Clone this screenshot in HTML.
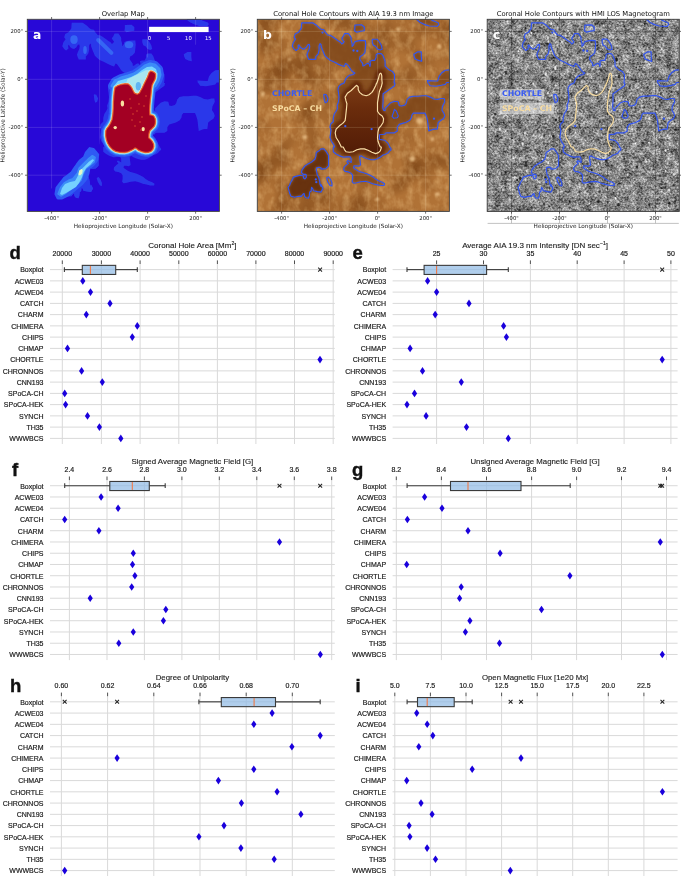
<!DOCTYPE html>
<html><head><meta charset="utf-8"><title>Coronal hole detection comparison</title>
<style>html,body{margin:0;padding:0;background:#fff;width:681px;height:876px;overflow:hidden}svg{display:block}</style>
</head><body><svg width="681" height="876" viewBox="0 0 681 876">
<rect width="681" height="876" fill="#fff"/>
<svg x="27.3" y="19.3" width="192.1" height="192.1" viewBox="0 0 192.1 192.1" overflow="hidden"><defs><filter id="ba" x="-10%" y="-10%" width="120%" height="120%"><feGaussianBlur stdDeviation="0.5"/></filter></defs><rect width="192.1" height="192.1" fill="#2808d7"/><g filter="url(#ba)"><path d="M44.4 3.5L55.3 3.5 57.6 4.9 60.0 6.7 61.8 8.6 63.8 10.0 63.8 10.0 66.6 10.5 68.0 12.9 70.4 15.7 73.2 16.1 76.0 18.0 78.8 19.9 81.2 21.8 83.5 23.2 84.5 24.6 85.9 23.7 86.8 22.3 85.4 20.8 84.5 19.0 85.9 17.1 87.3 14.3 91.1 14.3 92.5 16.1 93.9 18.5 93.9 21.3 94.8 24.1 94.8 27.0 96.2 25.5 97.2 22.7 99.5 21.8 104.2 21.1 108.0 21.3 108.4 25.1 108.0 29.8 107.5 33.5 105.2 35.9 102.8 37.3 102.3 39.6 103.7 42.0 105.2 43.9 105.6 46.7 107.0 46.2 108.9 44.8 110.8 43.9 112.2 45.3 112.7 47.2 113.1 44.8 112.7 42.0 114.6 41.1 117.4 41.1 118.8 38.2 118.8 35.4 120.2 34.3 124.0 34.3 125.8 36.4 126.8 39.2 127.8 42.0 127.8 46.7 131.6 50.5 135.3 52.3 137.2 55.2 137.2 59.9 136.7 63.7 137.7 63.7 137.2 66.5 133.4 69.3 127.8 73.1 127.8 73.1 125.8 74.5 125.8 82.5 125.4 88.1 126.3 91.0 127.8 91.4 127.8 89.1 130.6 86.3 133.4 83.4 137.2 82.0 141.0 82.5 141.9 86.3 144.2 86.7 147.5 85.8 148.9 83.9 149.9 80.1 152.2 77.8 156.0 76.9 160.7 76.9 165.4 76.4 169.2 76.4 172.9 77.8 176.7 79.7 180.4 80.1 184.2 79.2 187.0 79.2 187.5 82.5 185.1 87.2 184.7 91.0 186.5 93.8 187.5 96.6 186.1 99.4 183.3 101.3 180.9 103.2 180.4 106.9 180.0 109.8 176.7 109.8 173.9 110.7 171.5 111.6 171.0 107.9 170.6 104.1 170.1 100.4 169.2 97.5 167.7 93.8 162.6 93.8 156.0 93.8 154.6 95.7 154.1 98.5 152.2 101.3 148.5 103.2 145.2 104.1 141.9 105.1 140.0 107.9 140.0 111.6 137.2 113.5 133.4 113.5 129.7 113.5 127.8 114.0 127.8 114.9 122.1 115.4 122.1 120.1 127.8 121.0 127.8 121.0 128.7 122.0 130.6 123.9 132.5 127.7 132.0 127.7 133.4 128.6 133.9 130.5 132.0 131.9 130.6 133.8 127.8 135.2 127.8 135.2 125.8 135.7 124.0 137.1 120.2 139.4 117.4 140.4 113.6 140.4 109.9 139.4 106.1 138.0 104.2 136.6 102.3 137.1 102.8 141.8 103.3 145.6 101.4 147.0 99.0 146.5 96.7 146.5 96.2 148.4 98.6 150.3 100.9 151.7 103.3 152.6 106.1 153.5 109.4 154.5 112.7 155.9 116.0 157.8 118.3 159.7 121.1 161.5 124.9 162.9 127.2 164.4 126.8 166.2 123.0 166.2 119.3 165.3 115.5 164.4 111.7 162.9 108.0 162.0 103.3 162.5 99.5 163.4 96.2 163.9 94.8 162.5 95.3 159.7 95.3 155.9 93.9 154.0 91.1 152.6 87.8 152.1 86.4 150.3 86.8 147.9 89.2 145.6 91.1 144.1 89.6 142.3 90.6 141.3 92.5 142.3 93.9 143.2 93.9 139.4 92.9 137.6 89.6 137.6 86.4 138.0 82.6 136.6 78.8 134.7 76.0 132.4 76.0 127.7 77.4 127.7 76.0 124.8 74.1 122.0 72.7 118.2 73.2 114.5 73.7 110.7 72.7 107.9 73.2 105.1 76.0 102.2 76.0 98.5 77.0 94.7 78.8 91.9 80.2 89.1 79.8 86.3 81.2 82.5 81.7 77.8 81.2 73.1 80.7 70.3 81.2 67.5 83.5 65.1 86.8 63.7 86.8 63.7 88.2 59.9 90.1 57.5 92.0 56.1 95.8 55.2 97.6 53.7 95.8 52.8 93.9 50.9 92.5 48.6 91.1 46.7 89.6 44.8 88.2 44.3 86.8 47.2 84.0 46.2 80.7 44.8 77.4 42.9 74.1 41.5 72.3 40.6 69.4 38.2 67.6 36.4 65.2 30.7 63.8 27.0 63.8 25.3 62.8 24.3 61.8 26.5 61.8 30.7 60.9 34.5 58.5 37.3 58.5 40.1 51.5 40.1 50.6 38.2 49.6 35.4 50.6 32.6 52.0 29.8 52.4 27.0 52.0 25.1 50.6 25.5 49.1 27.9 46.8 29.8 44.9 29.3 43.0 27.9 41.6 25.5 40.7 26.5 41.2 29.3 38.8 31.2 36.9 29.8 35.0 27.0 36.0 23.2 38.3 19.9 36.9 18.0 37.9 14.7 41.2 12.9 44.0 9.1Z M63.8 129.6L63.8 129.6 66.6 129.6 69.0 132.4 71.3 136.2 71.3 146.5 68.5 149.3 63.8 149.8 63.8 148.4 61.8 147.9 59.5 148.4 59.0 150.3 60.0 155.9 61.4 157.8 62.3 161.5 62.8 165.3 63.8 167.2 63.8 165.3 65.7 169.1 63.8 172.8 63.8 172.8 60.0 172.3 56.2 171.4 55.3 169.1 54.3 168.1 53.8 171.9 52.4 172.8 52.0 176.6 51.0 178.9 48.7 178.5 47.3 177.0 46.8 174.2 45.9 174.7 44.0 177.0 41.2 177.0 37.4 178.0 33.6 177.0 32.7 174.7 31.8 171.9 30.8 168.1 32.2 166.2 33.2 163.4 35.0 160.6 36.0 157.8 39.3 156.8 43.0 155.9 45.9 156.4 46.3 158.7 47.7 159.7 49.1 157.8 48.7 155.0 45.9 155.0 44.0 153.1 44.9 150.3 47.3 147.0 50.6 144.6 54.3 142.7 57.6 139.9 58.5 137.1 59.0 133.3 61.8 131.5Z M97.6 5.8L104.2 5.5 107.0 7.7 107.0 11.4 103.3 11.9 99.5 12.9 97.2 11.4 97.6 8.6Z M115.0 19.9L119.7 19.9 122.1 22.7 124.0 26.0 124.9 29.8 123.0 30.7 120.2 29.8 118.3 27.0 116.0 26.0 115.0 23.2Z M159.3 -0.8L159.8 0.6 162.6 3.0 167.3 5.3 172.0 6.7 180.0 7.0 181.4 5.3 180.9 3.5 178.6 2.5 174.8 1.1 172.9 -0.8Z M156.5 34.9L160.2 32.6 164.0 32.6 164.0 37.3 164.5 42.0 161.2 41.1 157.9 39.6 156.9 37.3Z M66.6 75.0L69.0 75.4 70.8 79.2 69.9 82.5 68.0 83.4 67.1 80.6 66.6 76.9Z M137.2 90.0L139.1 91.9 141.0 96.6 140.0 98.5 136.3 98.9 134.8 97.1 136.3 92.8Z M69.4 158.7L71.3 157.8 73.2 160.1 74.6 163.4 74.6 166.7 72.7 166.2 70.4 162.5Z M193.6 50.5L188.0 50.9 184.2 53.7 181.8 57.0 180.9 59.9 180.4 61.7 178.6 61.7 170.1 61.3 170.6 63.7 171.0 63.7 172.9 66.5 178.6 67.0 184.2 66.0 188.0 65.1 189.4 63.2 193.6 63.2Z" fill="#2c38ea"/><g fill="#3466f4"><path d="M70.9 20.7L84.1 33.6" stroke="#3466f4" stroke-width="4" stroke-linecap="round"/><ellipse cx="46.7" cy="20.3" rx="3.7" ry="4.4"/><ellipse cx="57.7" cy="30.7" rx="1.8" ry="4"/><ellipse cx="101.7" cy="25.4" rx="4.2" ry="3.5"/></g><path d="M63.8 129.6L63.8 129.6 66.6 129.6 69.0 132.4 71.3 136.2 71.3 146.5 68.5 149.3 63.8 149.8 63.8 148.4 61.8 147.9 59.5 148.4 59.0 150.3 60.0 155.9 61.4 157.8 62.3 161.5 62.8 165.3 63.8 167.2 63.8 165.3 65.7 169.1 63.8 172.8 63.8 172.8 60.0 172.3 56.2 171.4 55.3 169.1 54.3 168.1 53.8 171.9 52.4 172.8 52.0 176.6 51.0 178.9 48.7 178.5 47.3 177.0 46.8 174.2 45.9 174.7 44.0 177.0 41.2 177.0 37.4 178.0 33.6 177.0 32.7 174.7 31.8 171.9 30.8 168.1 32.2 166.2 33.2 163.4 35.0 160.6 36.0 157.8 39.3 156.8 43.0 155.9 45.9 156.4 46.3 158.7 47.7 159.7 49.1 157.8 48.7 155.0 45.9 155.0 44.0 153.1 44.9 150.3 47.3 147.0 50.6 144.6 54.3 142.7 57.6 139.9 58.5 137.1 59.0 133.3 61.8 131.5Z" fill="#2b3eec"/><path d="M28.7 174.7L29.7 168.7 32.7 164.7 36.9 159.3 44.0 154.0 46.6 150.5 50.1 145.2 52.8 141.7 57.2 138.1 58.9 133.7 62.5 129.3 66.0 130.2 70.4 135.5 69.5 140.8 66.0 145.2 61.6 148.7 60.7 154.0 58.9 159.3 54.5 164.6 50.1 168.1 45.7 171.7 40.7 175.7 34.7 178.7 30.7 178.7Z" fill="#2e5af4" stroke="#2e5af4" stroke-width="3" stroke-linejoin="round"/><path d="M30.7 174.7L33.4 168.1 36.9 163.7 41.3 161.0 45.7 159.3 50.1 154.0 51.9 148.7 56.3 144.3 60.7 139.9 65.1 136.4 67.8 138.1 66.9 142.5 62.5 146.1 58.1 149.6 55.4 155.7 53.7 161.0 50.1 164.6 44.8 169.0 38.7 173.7 33.7 176.7Z" fill="#3c8cf8" stroke="#3c8cf8" stroke-width="1.5" stroke-linejoin="round"/><path d="M32.7 174.7L34.7 168.7 37.7 164.7 42.7 162.7 47.7 161.7 50.1 157.5 52.8 151.3 57.2 146.9 61.6 142.5 65.1 139.9 66.9 140.8 63.3 145.2 58.9 148.7 56.3 153.1 54.5 158.4 51.7 163.7 48.7 167.7 43.7 170.7 38.7 173.7 34.7 175.7Z" fill="#74d2ff"/><path d="M51.0 155.2L51.9 151.2 54.2 149.6 55.4 150.7 54.9 154.2 52.7 156.2Z" fill="#e4f8c8"/><path d="M84.7 66.7L87.7 61.7 93.7 58.7 100.7 56.7 106.7 54.7 112.7 50.7 117.7 46.7 122.7 44.7 127.7 45.7 131.7 49.7 132.7 55.7 130.7 61.7 127.7 66.7Z" fill="#2e5af4" stroke="#2e5af4" stroke-width="8" stroke-linejoin="round"/><path d="M87.7 68.1L90.7 66.2 94.0 65.2 97.7 64.5 100.8 64.7 102.7 66.2 104.2 68.1 105.7 71.2 107.1 73.8 110.0 75.0 112.2 73.7 113.4 71.5 115.2 68.2 116.8 64.7 118.5 61.2 120.2 57.8 121.9 53.3 123.2 51.9 124.8 52.1 126.7 53.0 128.2 54.4 128.3 57.2 127.7 60.1 126.0 63.2 124.8 65.8 124.1 70.2 123.7 75.0 123.0 80.7 122.5 86.4 122.3 90.7 122.5 95.5 124.7 95.9 126.5 96.7 127.9 99.5 128.2 102.4 127.9 104.7 127.1 106.9 124.9 109.2 122.5 111.5 121.6 114.7 121.4 118.4 123.2 120.0 124.8 121.8 126.3 124.7 126.5 127.5 125.5 130.2 123.7 132.1 120.7 133.1 117.9 133.2 114.4 132.3 111.1 130.9 109.2 129.3 107.7 128.6 106.0 129.9 104.2 130.9 100.7 132.5 97.4 133.2 92.7 133.0 88.3 132.1 85.0 130.1 82.5 127.5 80.5 124.2 79.1 120.6 78.3 116.2 78.5 111.5 79.7 109.0 81.4 106.9 83.3 103.7 84.8 100.1 85.6 94.7 86.0 88.7 86.1 82.7 86.5 77.2 86.9 72.7Z" fill="#2e5af4" stroke="#2e5af4" stroke-width="8.5" stroke-linejoin="round"/><path d="M84.7 66.7L87.7 61.7 93.7 58.7 100.7 56.7 106.7 54.7 112.7 50.7 117.7 46.7 122.7 44.7 127.7 45.7 131.7 49.7 132.7 55.7 130.7 61.7 127.7 66.7Z" fill="#3c8cf8" stroke="#3c8cf8" stroke-width="3" stroke-linejoin="round"/><path d="M87.7 68.1L90.7 66.2 94.0 65.2 97.7 64.5 100.8 64.7 102.7 66.2 104.2 68.1 105.7 71.2 107.1 73.8 110.0 75.0 112.2 73.7 113.4 71.5 115.2 68.2 116.8 64.7 118.5 61.2 120.2 57.8 121.9 53.3 123.2 51.9 124.8 52.1 126.7 53.0 128.2 54.4 128.3 57.2 127.7 60.1 126.0 63.2 124.8 65.8 124.1 70.2 123.7 75.0 123.0 80.7 122.5 86.4 122.3 90.7 122.5 95.5 124.7 95.9 126.5 96.7 127.9 99.5 128.2 102.4 127.9 104.7 127.1 106.9 124.9 109.2 122.5 111.5 121.6 114.7 121.4 118.4 123.2 120.0 124.8 121.8 126.3 124.7 126.5 127.5 125.5 130.2 123.7 132.1 120.7 133.1 117.9 133.2 114.4 132.3 111.1 130.9 109.2 129.3 107.7 128.6 106.0 129.9 104.2 130.9 100.7 132.5 97.4 133.2 92.7 133.0 88.3 132.1 85.0 130.1 82.5 127.5 80.5 124.2 79.1 120.6 78.3 116.2 78.5 111.5 79.7 109.0 81.4 106.9 83.3 103.7 84.8 100.1 85.6 94.7 86.0 88.7 86.1 82.7 86.5 77.2 86.9 72.7Z" fill="#3c8cf8" stroke="#3c8cf8" stroke-width="5.6" stroke-linejoin="round"/><path d="M87.7 68.1L90.7 66.2 94.0 65.2 97.7 64.5 100.8 64.7 102.7 66.2 104.2 68.1 105.7 71.2 107.1 73.8 110.0 75.0 112.2 73.7 113.4 71.5 115.2 68.2 116.8 64.7 118.5 61.2 120.2 57.8 121.9 53.3 123.2 51.9 124.8 52.1 126.7 53.0 128.2 54.4 128.3 57.2 127.7 60.1 126.0 63.2 124.8 65.8 124.1 70.2 123.7 75.0 123.0 80.7 122.5 86.4 122.3 90.7 122.5 95.5 124.7 95.9 126.5 96.7 127.9 99.5 128.2 102.4 127.9 104.7 127.1 106.9 124.9 109.2 122.5 111.5 121.6 114.7 121.4 118.4 123.2 120.0 124.8 121.8 126.3 124.7 126.5 127.5 125.5 130.2 123.7 132.1 120.7 133.1 117.9 133.2 114.4 132.3 111.1 130.9 109.2 129.3 107.7 128.6 106.0 129.9 104.2 130.9 100.7 132.5 97.4 133.2 92.7 133.0 88.3 132.1 85.0 130.1 82.5 127.5 80.5 124.2 79.1 120.6 78.3 116.2 78.5 111.5 79.7 109.0 81.4 106.9 83.3 103.7 84.8 100.1 85.6 94.7 86.0 88.7 86.1 82.7 86.5 77.2 86.9 72.7Z" fill="#78d6ff" stroke="#78d6ff" stroke-width="3.8" stroke-linejoin="round"/><path d="M86.7 66.7L90.7 61.7 97.7 59.7 103.7 57.7 109.7 54.7 114.7 50.7 119.7 47.7 124.7 47.2 128.7 49.7 130.2 54.7 128.7 60.7 125.7 66.7Z" fill="#78d6ff"/><path d="M99.7 63.7L104.2 67.2 107.1 73.2 110.0 74.5 113.4 71.0 116.8 64.2 120.2 57.3 122.2 52.3 124.7 51.3 118.7 51.7 112.7 54.7 106.7 57.7 100.7 60.7Z" fill="#a8e6f0" stroke="#a8e6f0" stroke-width="1.5" stroke-linejoin="round"/><ellipse cx="111" cy="67" rx="2.6" ry="4.2" fill="#60b4f2"/><path d="M87.7 68.1L90.7 66.2 94.0 65.2 97.7 64.5 100.8 64.7 102.7 66.2 104.2 68.1 105.7 71.2 107.1 73.8 110.0 75.0 112.2 73.7 113.4 71.5 115.2 68.2 116.8 64.7 118.5 61.2 120.2 57.8 121.9 53.3 123.2 51.9 124.8 52.1 126.7 53.0 128.2 54.4 128.3 57.2 127.7 60.1 126.0 63.2 124.8 65.8 124.1 70.2 123.7 75.0 123.0 80.7 122.5 86.4 122.3 90.7 122.5 95.5 124.7 95.9 126.5 96.7 127.9 99.5 128.2 102.4 127.9 104.7 127.1 106.9 124.9 109.2 122.5 111.5 121.6 114.7 121.4 118.4 123.2 120.0 124.8 121.8 126.3 124.7 126.5 127.5 125.5 130.2 123.7 132.1 120.7 133.1 117.9 133.2 114.4 132.3 111.1 130.9 109.2 129.3 107.7 128.6 106.0 129.9 104.2 130.9 100.7 132.5 97.4 133.2 92.7 133.0 88.3 132.1 85.0 130.1 82.5 127.5 80.5 124.2 79.1 120.6 78.3 116.2 78.5 111.5 79.7 109.0 81.4 106.9 83.3 103.7 84.8 100.1 85.6 94.7 86.0 88.7 86.1 82.7 86.5 77.2 86.9 72.7Z" fill="#f4f0b8" stroke="#f4f0b8" stroke-width="2.2" stroke-linejoin="round"/><path d="M87.7 68.1L90.7 66.2 94.0 65.2 97.7 64.5 100.8 64.7 102.7 66.2 104.2 68.1 105.7 71.2 107.1 73.8 110.0 75.0 112.2 73.7 113.4 71.5 115.2 68.2 116.8 64.7 118.5 61.2 120.2 57.8 121.9 53.3 123.2 51.9 124.8 52.1 126.7 53.0 128.2 54.4 128.3 57.2 127.7 60.1 126.0 63.2 124.8 65.8 124.1 70.2 123.7 75.0 123.0 80.7 122.5 86.4 122.3 90.7 122.5 95.5 124.7 95.9 126.5 96.7 127.9 99.5 128.2 102.4 127.9 104.7 127.1 106.9 124.9 109.2 122.5 111.5 121.6 114.7 121.4 118.4 123.2 120.0 124.8 121.8 126.3 124.7 126.5 127.5 125.5 130.2 123.7 132.1 120.7 133.1 117.9 133.2 114.4 132.3 111.1 130.9 109.2 129.3 107.7 128.6 106.0 129.9 104.2 130.9 100.7 132.5 97.4 133.2 92.7 133.0 88.3 132.1 85.0 130.1 82.5 127.5 80.5 124.2 79.1 120.6 78.3 116.2 78.5 111.5 79.7 109.0 81.4 106.9 83.3 103.7 84.8 100.1 85.6 94.7 86.0 88.7 86.1 82.7 86.5 77.2 86.9 72.7Z" fill="#f49048" stroke="#f49048" stroke-width="1.0" stroke-linejoin="round"/></g><path d="M87.7 68.1L90.7 66.2 94.0 65.2 97.7 64.5 100.8 64.7 102.7 66.2 104.2 68.1 105.7 71.2 107.1 73.8 110.0 75.0 112.2 73.7 113.4 71.5 115.2 68.2 116.8 64.7 118.5 61.2 120.2 57.8 121.9 53.3 123.2 51.9 124.8 52.1 126.7 53.0 128.2 54.4 128.3 57.2 127.7 60.1 126.0 63.2 124.8 65.8 124.1 70.2 123.7 75.0 123.0 80.7 122.5 86.4 122.3 90.7 122.5 95.5 124.7 95.9 126.5 96.7 127.9 99.5 128.2 102.4 127.9 104.7 127.1 106.9 124.9 109.2 122.5 111.5 121.6 114.7 121.4 118.4 123.2 120.0 124.8 121.8 126.3 124.7 126.5 127.5 125.5 130.2 123.7 132.1 120.7 133.1 117.9 133.2 114.4 132.3 111.1 130.9 109.2 129.3 107.7 128.6 106.0 129.9 104.2 130.9 100.7 132.5 97.4 133.2 92.7 133.0 88.3 132.1 85.0 130.1 82.5 127.5 80.5 124.2 79.1 120.6 78.3 116.2 78.5 111.5 79.7 109.0 81.4 106.9 83.3 103.7 84.8 100.1 85.6 94.7 86.0 88.7 86.1 82.7 86.5 77.2 86.9 72.7Z" fill="#a30023"/><path d="M87.7 68.1L90.7 66.2 94.0 65.2 97.7 64.5 100.8 64.7 102.7 66.2 104.2 68.1 105.7 71.2 107.1 73.8 110.0 75.0 112.2 73.7 113.4 71.5 115.2 68.2 116.8 64.7 118.5 61.2 120.2 57.8 121.9 53.3 123.2 51.9 124.8 52.1 126.7 53.0 128.2 54.4 128.3 57.2 127.7 60.1 126.0 63.2 124.8 65.8 124.1 70.2 123.7 75.0 123.0 80.7 122.5 86.4 122.3 90.7 122.5 95.5 124.7 95.9 126.5 96.7 127.9 99.5 128.2 102.4 127.9 104.7 127.1 106.9 124.9 109.2 122.5 111.5 121.6 114.7 121.4 118.4 123.2 120.0 124.8 121.8 126.3 124.7 126.5 127.5 125.5 130.2 123.7 132.1 120.7 133.1 117.9 133.2 114.4 132.3 111.1 130.9 109.2 129.3 107.7 128.6 106.0 129.9 104.2 130.9 100.7 132.5 97.4 133.2 92.7 133.0 88.3 132.1 85.0 130.1 82.5 127.5 80.5 124.2 79.1 120.6 78.3 116.2 78.5 111.5 79.7 109.0 81.4 106.9 83.3 103.7 84.8 100.1 85.6 94.7 86.0 88.7 86.1 82.7 86.5 77.2 86.9 72.7Z" fill="none" stroke="#e8602c" stroke-width="1.3" stroke-linejoin="round" opacity="0.75" filter="url(#ba)"/><ellipse cx="95.1" cy="84.1" rx="1.7" ry="3.0" fill="#f8e0a0"/><ellipse cx="87.9" cy="108.3" rx="1.7" ry="1.7" fill="#f8e0a0"/><ellipse cx="115.9" cy="109.8" rx="1.6" ry="2.2" fill="#f8e0a0"/><circle cx="103.7" cy="88.7" r="0.8" fill="#d84830"/><circle cx="105.7" cy="94.7" r="0.8" fill="#d84830"/><circle cx="104.7" cy="100.7" r="0.8" fill="#d84830"/><circle cx="109.7" cy="91.7" r="0.8" fill="#d84830"/><circle cx="112.7" cy="102.7" r="0.8" fill="#d84830"/><circle cx="114.7" cy="97.7" r="0.8" fill="#d84830"/><circle cx="111.7" cy="84.7" r="0.8" fill="#d84830"/><circle cx="107.7" cy="106.7" r="0.8" fill="#d84830"/><circle cx="116.7" cy="86.7" r="0.8" fill="#d84830"/><circle cx="102.7" cy="79.7" r="0.8" fill="#d84830"/><circle cx="118.7" cy="76.7" r="0.8" fill="#d84830"/><circle cx="113.7" cy="110.7" r="0.8" fill="#d84830"/><clipPath id="gca"><path d="M0 0H192V22L170 25L122 37L86 62L74 105L72 125L38 157L26 169L0 172Z"/></clipPath><g clip-path="url(#gca)"><path d="M24.3 0V192.1M72.3 0V192.1M120.3 0V192.1M168.3 0V192.1M0 12.1H192.1M0 60H192.1M0 108.1H192.1M0 155.9H192.1" stroke="rgba(255,255,255,0.22)" stroke-width="0.6" fill="none"/></g><text x="5.8" y="19.8" font-family="'DejaVu Sans', sans-serif" font-size="12.3" font-weight="bold" fill="#fff">a</text><rect x="121.8" y="7.5" width="59.5" height="5.3" fill="#fff"/><g font-family="'DejaVu Sans', sans-serif" font-size="5.3" fill="#fff" text-anchor="middle"><text x="122.1" y="20.9">0</text><text x="141.5" y="20.9">5</text><text x="161.2" y="20.9">10</text><text x="181" y="20.9">15</text></g></svg><path d="M51.6 19.3v-2.3M51.6 211.4v2.3M99.6 19.3v-2.3M99.6 211.4v2.3M147.6 19.3v-2.3M147.6 211.4v2.3M195.6 19.3v-2.3M195.6 211.4v2.3M27.3 31.4h-2.3M219.4 31.4h2.3M27.3 79.3h-2.3M219.4 79.3h2.3M27.3 127.4h-2.3M219.4 127.4h2.3M27.3 175.2h-2.3M219.4 175.2h2.3" stroke="#333" stroke-width="0.7" fill="none"/><rect x="27.3" y="19.3" width="192.1" height="192.1" fill="none" stroke="#3a3a3a" stroke-width="0.9"/><g font-family="'DejaVu Sans', sans-serif" font-size="5.3" fill="#222"><text x="51.6" y="219.8" text-anchor="middle">-400"</text><text x="99.6" y="219.8" text-anchor="middle">-200"</text><text x="147.6" y="219.8" text-anchor="middle">0"</text><text x="195.6" y="219.8" text-anchor="middle">200"</text><text x="23" y="33.3" text-anchor="end">200"</text><text x="23" y="81.2" text-anchor="end">0"</text><text x="23" y="129.3" text-anchor="end">-200"</text><text x="23" y="177.1" text-anchor="end">-400"</text><text x="123.35" y="228.4" text-anchor="middle" font-size="5.72">Helioprojective Longitude (Solar-X)</text><text transform="translate(4.7 115.35) rotate(-89.9)" text-anchor="middle" font-size="5.75">Helioprojective Latitude (Solar-Y)</text><text x="123.35" y="16.1" text-anchor="middle" font-size="6.8" fill="#111">Overlap Map</text></g><svg x="257.3" y="19.3" width="192.1" height="192.1" viewBox="0 0 192.1 192.1" overflow="hidden"><defs><filter id="nb" x="0" y="0" width="100%" height="100%" color-interpolation-filters="sRGB"><feTurbulence type="fractalNoise" baseFrequency="0.14 0.1" numOctaves="3" seed="3"/><feColorMatrix type="matrix" values="0 0 0 0 1  0 0 0 0 0.85  0 0 0 0 0.6  0.75 0 0 0 -0.3"/></filter><filter id="nb2" x="0" y="0" width="100%" height="100%" color-interpolation-filters="sRGB"><feTurbulence type="fractalNoise" baseFrequency="0.03" numOctaves="2" seed="11"/><feColorMatrix type="matrix" values="0 0 0 0 0.35  0 0 0 0 0.15  0 0 0 0 0  1.2 0 0 0 -0.5"/></filter><filter id="bb" x="-20%" y="-20%" width="140%" height="140%"><feGaussianBlur stdDeviation="1.6"/></filter><filter id="bs" x="-50%" y="-50%" width="200%" height="200%"><feGaussianBlur stdDeviation="0.9"/></filter><linearGradient id="spg" x1="0" y1="0" x2="0" y2="1"><stop offset="0" stop-color="#84421a"/><stop offset="0.45" stop-color="#6a2c0c"/><stop offset="1" stop-color="#521c06"/></linearGradient></defs><rect width="192.1" height="192.1" fill="#b07236"/><rect width="192.1" height="192.1" filter="url(#nb2)"/><rect width="192.1" height="192.1" filter="url(#nb)"/><g filter="url(#bb)"><path d="M44.4 3.5L55.3 3.5 57.6 4.9 60.0 6.7 61.8 8.6 63.8 10.0 63.8 10.0 66.6 10.5 68.0 12.9 70.4 15.7 73.2 16.1 76.0 18.0 78.8 19.9 81.2 21.8 83.5 23.2 84.5 24.6 85.9 23.7 86.8 22.3 85.4 20.8 84.5 19.0 85.9 17.1 87.3 14.3 91.1 14.3 92.5 16.1 93.9 18.5 93.9 21.3 94.8 24.1 94.8 27.0 96.2 25.5 97.2 22.7 99.5 21.8 104.2 21.1 108.0 21.3 108.4 25.1 108.0 29.8 107.5 33.5 105.2 35.9 102.8 37.3 102.3 39.6 103.7 42.0 105.2 43.9 105.6 46.7 107.0 46.2 108.9 44.8 110.8 43.9 112.2 45.3 112.7 47.2 113.1 44.8 112.7 42.0 114.6 41.1 117.4 41.1 118.8 38.2 118.8 35.4 120.2 34.3 124.0 34.3 125.8 36.4 126.8 39.2 127.8 42.0 127.8 46.7 131.6 50.5 135.3 52.3 137.2 55.2 137.2 59.9 136.7 63.7 137.7 63.7 137.2 66.5 133.4 69.3 127.8 73.1 127.8 73.1 125.8 74.5 125.8 82.5 125.4 88.1 126.3 91.0 127.8 91.4 127.8 89.1 130.6 86.3 133.4 83.4 137.2 82.0 141.0 82.5 141.9 86.3 144.2 86.7 147.5 85.8 148.9 83.9 149.9 80.1 152.2 77.8 156.0 76.9 160.7 76.9 165.4 76.4 169.2 76.4 172.9 77.8 176.7 79.7 180.4 80.1 184.2 79.2 187.0 79.2 187.5 82.5 185.1 87.2 184.7 91.0 186.5 93.8 187.5 96.6 186.1 99.4 183.3 101.3 180.9 103.2 180.4 106.9 180.0 109.8 176.7 109.8 173.9 110.7 171.5 111.6 171.0 107.9 170.6 104.1 170.1 100.4 169.2 97.5 167.7 93.8 162.6 93.8 156.0 93.8 154.6 95.7 154.1 98.5 152.2 101.3 148.5 103.2 145.2 104.1 141.9 105.1 140.0 107.9 140.0 111.6 137.2 113.5 133.4 113.5 129.7 113.5 127.8 114.0 127.8 114.9 122.1 115.4 122.1 120.1 127.8 121.0 127.8 121.0 128.7 122.0 130.6 123.9 132.5 127.7 132.0 127.7 133.4 128.6 133.9 130.5 132.0 131.9 130.6 133.8 127.8 135.2 127.8 135.2 125.8 135.7 124.0 137.1 120.2 139.4 117.4 140.4 113.6 140.4 109.9 139.4 106.1 138.0 104.2 136.6 102.3 137.1 102.8 141.8 103.3 145.6 101.4 147.0 99.0 146.5 96.7 146.5 96.2 148.4 98.6 150.3 100.9 151.7 103.3 152.6 106.1 153.5 109.4 154.5 112.7 155.9 116.0 157.8 118.3 159.7 121.1 161.5 124.9 162.9 127.2 164.4 126.8 166.2 123.0 166.2 119.3 165.3 115.5 164.4 111.7 162.9 108.0 162.0 103.3 162.5 99.5 163.4 96.2 163.9 94.8 162.5 95.3 159.7 95.3 155.9 93.9 154.0 91.1 152.6 87.8 152.1 86.4 150.3 86.8 147.9 89.2 145.6 91.1 144.1 89.6 142.3 90.6 141.3 92.5 142.3 93.9 143.2 93.9 139.4 92.9 137.6 89.6 137.6 86.4 138.0 82.6 136.6 78.8 134.7 76.0 132.4 76.0 127.7 77.4 127.7 76.0 124.8 74.1 122.0 72.7 118.2 73.2 114.5 73.7 110.7 72.7 107.9 73.2 105.1 76.0 102.2 76.0 98.5 77.0 94.7 78.8 91.9 80.2 89.1 79.8 86.3 81.2 82.5 81.7 77.8 81.2 73.1 80.7 70.3 81.2 67.5 83.5 65.1 86.8 63.7 86.8 63.7 88.2 59.9 90.1 57.5 92.0 56.1 95.8 55.2 97.6 53.7 95.8 52.8 93.9 50.9 92.5 48.6 91.1 46.7 89.6 44.8 88.2 44.3 86.8 47.2 84.0 46.2 80.7 44.8 77.4 42.9 74.1 41.5 72.3 40.6 69.4 38.2 67.6 36.4 65.2 30.7 63.8 27.0 63.8 25.3 62.8 24.3 61.8 26.5 61.8 30.7 60.9 34.5 58.5 37.3 58.5 40.1 51.5 40.1 50.6 38.2 49.6 35.4 50.6 32.6 52.0 29.8 52.4 27.0 52.0 25.1 50.6 25.5 49.1 27.9 46.8 29.8 44.9 29.3 43.0 27.9 41.6 25.5 40.7 26.5 41.2 29.3 38.8 31.2 36.9 29.8 35.0 27.0 36.0 23.2 38.3 19.9 36.9 18.0 37.9 14.7 41.2 12.9 44.0 9.1Z M63.8 129.6L63.8 129.6 66.6 129.6 69.0 132.4 71.3 136.2 71.3 146.5 68.5 149.3 63.8 149.8 63.8 148.4 61.8 147.9 59.5 148.4 59.0 150.3 60.0 155.9 61.4 157.8 62.3 161.5 62.8 165.3 63.8 167.2 63.8 165.3 65.7 169.1 63.8 172.8 63.8 172.8 60.0 172.3 56.2 171.4 55.3 169.1 54.3 168.1 53.8 171.9 52.4 172.8 52.0 176.6 51.0 178.9 48.7 178.5 47.3 177.0 46.8 174.2 45.9 174.7 44.0 177.0 41.2 177.0 37.4 178.0 33.6 177.0 32.7 174.7 31.8 171.9 30.8 168.1 32.2 166.2 33.2 163.4 35.0 160.6 36.0 157.8 39.3 156.8 43.0 155.9 45.9 156.4 46.3 158.7 47.7 159.7 49.1 157.8 48.7 155.0 45.9 155.0 44.0 153.1 44.9 150.3 47.3 147.0 50.6 144.6 54.3 142.7 57.6 139.9 58.5 137.1 59.0 133.3 61.8 131.5Z M97.6 5.8L104.2 5.5 107.0 7.7 107.0 11.4 103.3 11.9 99.5 12.9 97.2 11.4 97.6 8.6Z M115.0 19.9L119.7 19.9 122.1 22.7 124.0 26.0 124.9 29.8 123.0 30.7 120.2 29.8 118.3 27.0 116.0 26.0 115.0 23.2Z M159.3 -0.8L159.8 0.6 162.6 3.0 167.3 5.3 172.0 6.7 180.0 7.0 181.4 5.3 180.9 3.5 178.6 2.5 174.8 1.1 172.9 -0.8Z M156.5 34.9L160.2 32.6 164.0 32.6 164.0 37.3 164.5 42.0 161.2 41.1 157.9 39.6 156.9 37.3Z M66.6 75.0L69.0 75.4 70.8 79.2 69.9 82.5 68.0 83.4 67.1 80.6 66.6 76.9Z M137.2 90.0L139.1 91.9 141.0 96.6 140.0 98.5 136.3 98.9 134.8 97.1 136.3 92.8Z M69.4 158.7L71.3 157.8 73.2 160.1 74.6 163.4 74.6 166.7 72.7 166.2 70.4 162.5Z M193.6 50.5L188.0 50.9 184.2 53.7 181.8 57.0 180.9 59.9 180.4 61.7 178.6 61.7 170.1 61.3 170.6 63.7 171.0 63.7 172.9 66.5 178.6 67.0 184.2 66.0 188.0 65.1 189.4 63.2 193.6 63.2Z" fill="#7e4418" opacity="0.85"/><path d="M63.8 129.6L63.8 129.6 66.6 129.6 69.0 132.4 71.3 136.2 71.3 146.5 68.5 149.3 63.8 149.8 63.8 148.4 61.8 147.9 59.5 148.4 59.0 150.3 60.0 155.9 61.4 157.8 62.3 161.5 62.8 165.3 63.8 167.2 63.8 165.3 65.7 169.1 63.8 172.8 63.8 172.8 60.0 172.3 56.2 171.4 55.3 169.1 54.3 168.1 53.8 171.9 52.4 172.8 52.0 176.6 51.0 178.9 48.7 178.5 47.3 177.0 46.8 174.2 45.9 174.7 44.0 177.0 41.2 177.0 37.4 178.0 33.6 177.0 32.7 174.7 31.8 171.9 30.8 168.1 32.2 166.2 33.2 163.4 35.0 160.6 36.0 157.8 39.3 156.8 43.0 155.9 45.9 156.4 46.3 158.7 47.7 159.7 49.1 157.8 48.7 155.0 45.9 155.0 44.0 153.1 44.9 150.3 47.3 147.0 50.6 144.6 54.3 142.7 57.6 139.9 58.5 137.1 59.0 133.3 61.8 131.5Z" fill="#5e2a0c" opacity="0.75"/><path d="M124.9 63.7L124.0 67.5 122.1 72.2 121.1 77.8 120.2 83.4 120.2 91.9 122.1 94.7 124.9 96.6 126.3 99.4 125.8 103.2 124.0 106.0 121.6 108.8 120.7 112.6 120.2 118.2 120.7 122.0 122.1 125.7 123.0 127.7 124.0 127.7 124.0 128.6 123.0 131.5 121.1 133.3 118.3 134.3 114.6 132.9 110.8 131.0 107.0 129.6 103.3 129.6 99.5 130.5 95.8 132.4 92.0 132.9 88.7 132.4 87.3 130.5 85.9 127.7 84.0 127.7 83.1 125.7 81.2 122.0 78.8 118.2 77.9 113.5 78.8 109.8 82.1 106.5 85.4 104.1 87.8 101.3 88.2 98.5 88.7 93.8 89.2 89.1 89.6 84.4 88.7 81.6 87.8 77.8 90.1 74.0 93.9 71.2 97.6 67.5 99.5 66.0 100.9 67.5 100.9 70.3 102.3 73.1 105.2 75.4 108.9 76.4 111.7 75.4 114.6 73.1 116.4 70.3 118.3 66.5 119.3 63.7 119.6 63.7 121.2 59.0 121.9 56.0 122.6 54.3 123.4 53.9 124.0 54.5 124.5 56.5 124.5 60.0 124.9 63.7Z" fill="#66290a" stroke="#66290a" stroke-width="9" stroke-linejoin="round" opacity="0.9"/></g><path d="M124.9 63.7L124.0 67.5 122.1 72.2 121.1 77.8 120.2 83.4 120.2 91.9 122.1 94.7 124.9 96.6 126.3 99.4 125.8 103.2 124.0 106.0 121.6 108.8 120.7 112.6 120.2 118.2 120.7 122.0 122.1 125.7 123.0 127.7 124.0 127.7 124.0 128.6 123.0 131.5 121.1 133.3 118.3 134.3 114.6 132.9 110.8 131.0 107.0 129.6 103.3 129.6 99.5 130.5 95.8 132.4 92.0 132.9 88.7 132.4 87.3 130.5 85.9 127.7 84.0 127.7 83.1 125.7 81.2 122.0 78.8 118.2 77.9 113.5 78.8 109.8 82.1 106.5 85.4 104.1 87.8 101.3 88.2 98.5 88.7 93.8 89.2 89.1 89.6 84.4 88.7 81.6 87.8 77.8 90.1 74.0 93.9 71.2 97.6 67.5 99.5 66.0 100.9 67.5 100.9 70.3 102.3 73.1 105.2 75.4 108.9 76.4 111.7 75.4 114.6 73.1 116.4 70.3 118.3 66.5 119.3 63.7 119.6 63.7 121.2 59.0 121.9 56.0 122.6 54.3 123.4 53.9 124.0 54.5 124.5 56.5 124.5 60.0 124.9 63.7Z" fill="url(#spg)"/><g filter="url(#bs)" fill="#f0c890" opacity="0.75"><ellipse cx="47.7" cy="117.7" rx="2.5" ry="2"/><ellipse cx="162" cy="101.5" rx="3.2" ry="3"/><ellipse cx="155" cy="139.5" rx="3" ry="2.5"/><ellipse cx="5.6" cy="74.7" rx="2" ry="2.5"/><ellipse cx="182" cy="27" rx="2" ry="2.5"/><ellipse cx="141" cy="10" rx="2" ry="2"/><ellipse cx="180" cy="175" rx="2.5" ry="2"/><ellipse cx="175" cy="120" rx="1.8" ry="2"/><ellipse cx="60" cy="150" rx="1.5" ry="1.5"/><ellipse cx="32" cy="40" rx="1.5" ry="1.5"/><ellipse cx="120" cy="180" rx="2" ry="1.5"/></g><path d="M24.3 0V192.1M72.3 0V192.1M120.3 0V192.1M168.3 0V192.1M0 12.1H192.1M0 60H192.1M0 108.1H192.1M0 155.9H192.1" stroke="rgba(255,240,210,0.25)" stroke-width="0.6" fill="none"/><path d="M44.4 3.5L55.3 3.5 57.6 4.9 60.0 6.7 61.8 8.6 63.8 10.0 63.8 10.0 66.6 10.5 68.0 12.9 70.4 15.7 73.2 16.1 76.0 18.0 78.8 19.9 81.2 21.8 83.5 23.2 84.5 24.6 85.9 23.7 86.8 22.3 85.4 20.8 84.5 19.0 85.9 17.1 87.3 14.3 91.1 14.3 92.5 16.1 93.9 18.5 93.9 21.3 94.8 24.1 94.8 27.0 96.2 25.5 97.2 22.7 99.5 21.8 104.2 21.1 108.0 21.3 108.4 25.1 108.0 29.8 107.5 33.5 105.2 35.9 102.8 37.3 102.3 39.6 103.7 42.0 105.2 43.9 105.6 46.7 107.0 46.2 108.9 44.8 110.8 43.9 112.2 45.3 112.7 47.2 113.1 44.8 112.7 42.0 114.6 41.1 117.4 41.1 118.8 38.2 118.8 35.4 120.2 34.3 124.0 34.3 125.8 36.4 126.8 39.2 127.8 42.0 127.8 46.7 131.6 50.5 135.3 52.3 137.2 55.2 137.2 59.9 136.7 63.7 137.7 63.7 137.2 66.5 133.4 69.3 127.8 73.1 127.8 73.1 125.8 74.5 125.8 82.5 125.4 88.1 126.3 91.0 127.8 91.4 127.8 89.1 130.6 86.3 133.4 83.4 137.2 82.0 141.0 82.5 141.9 86.3 144.2 86.7 147.5 85.8 148.9 83.9 149.9 80.1 152.2 77.8 156.0 76.9 160.7 76.9 165.4 76.4 169.2 76.4 172.9 77.8 176.7 79.7 180.4 80.1 184.2 79.2 187.0 79.2 187.5 82.5 185.1 87.2 184.7 91.0 186.5 93.8 187.5 96.6 186.1 99.4 183.3 101.3 180.9 103.2 180.4 106.9 180.0 109.8 176.7 109.8 173.9 110.7 171.5 111.6 171.0 107.9 170.6 104.1 170.1 100.4 169.2 97.5 167.7 93.8 162.6 93.8 156.0 93.8 154.6 95.7 154.1 98.5 152.2 101.3 148.5 103.2 145.2 104.1 141.9 105.1 140.0 107.9 140.0 111.6 137.2 113.5 133.4 113.5 129.7 113.5 127.8 114.0 127.8 114.9 122.1 115.4 122.1 120.1 127.8 121.0 127.8 121.0 128.7 122.0 130.6 123.9 132.5 127.7 132.0 127.7 133.4 128.6 133.9 130.5 132.0 131.9 130.6 133.8 127.8 135.2 127.8 135.2 125.8 135.7 124.0 137.1 120.2 139.4 117.4 140.4 113.6 140.4 109.9 139.4 106.1 138.0 104.2 136.6 102.3 137.1 102.8 141.8 103.3 145.6 101.4 147.0 99.0 146.5 96.7 146.5 96.2 148.4 98.6 150.3 100.9 151.7 103.3 152.6 106.1 153.5 109.4 154.5 112.7 155.9 116.0 157.8 118.3 159.7 121.1 161.5 124.9 162.9 127.2 164.4 126.8 166.2 123.0 166.2 119.3 165.3 115.5 164.4 111.7 162.9 108.0 162.0 103.3 162.5 99.5 163.4 96.2 163.9 94.8 162.5 95.3 159.7 95.3 155.9 93.9 154.0 91.1 152.6 87.8 152.1 86.4 150.3 86.8 147.9 89.2 145.6 91.1 144.1 89.6 142.3 90.6 141.3 92.5 142.3 93.9 143.2 93.9 139.4 92.9 137.6 89.6 137.6 86.4 138.0 82.6 136.6 78.8 134.7 76.0 132.4 76.0 127.7 77.4 127.7 76.0 124.8 74.1 122.0 72.7 118.2 73.2 114.5 73.7 110.7 72.7 107.9 73.2 105.1 76.0 102.2 76.0 98.5 77.0 94.7 78.8 91.9 80.2 89.1 79.8 86.3 81.2 82.5 81.7 77.8 81.2 73.1 80.7 70.3 81.2 67.5 83.5 65.1 86.8 63.7 86.8 63.7 88.2 59.9 90.1 57.5 92.0 56.1 95.8 55.2 97.6 53.7 95.8 52.8 93.9 50.9 92.5 48.6 91.1 46.7 89.6 44.8 88.2 44.3 86.8 47.2 84.0 46.2 80.7 44.8 77.4 42.9 74.1 41.5 72.3 40.6 69.4 38.2 67.6 36.4 65.2 30.7 63.8 27.0 63.8 25.3 62.8 24.3 61.8 26.5 61.8 30.7 60.9 34.5 58.5 37.3 58.5 40.1 51.5 40.1 50.6 38.2 49.6 35.4 50.6 32.6 52.0 29.8 52.4 27.0 52.0 25.1 50.6 25.5 49.1 27.9 46.8 29.8 44.9 29.3 43.0 27.9 41.6 25.5 40.7 26.5 41.2 29.3 38.8 31.2 36.9 29.8 35.0 27.0 36.0 23.2 38.3 19.9 36.9 18.0 37.9 14.7 41.2 12.9 44.0 9.1Z M63.8 129.6L63.8 129.6 66.6 129.6 69.0 132.4 71.3 136.2 71.3 146.5 68.5 149.3 63.8 149.8 63.8 148.4 61.8 147.9 59.5 148.4 59.0 150.3 60.0 155.9 61.4 157.8 62.3 161.5 62.8 165.3 63.8 167.2 63.8 165.3 65.7 169.1 63.8 172.8 63.8 172.8 60.0 172.3 56.2 171.4 55.3 169.1 54.3 168.1 53.8 171.9 52.4 172.8 52.0 176.6 51.0 178.9 48.7 178.5 47.3 177.0 46.8 174.2 45.9 174.7 44.0 177.0 41.2 177.0 37.4 178.0 33.6 177.0 32.7 174.7 31.8 171.9 30.8 168.1 32.2 166.2 33.2 163.4 35.0 160.6 36.0 157.8 39.3 156.8 43.0 155.9 45.9 156.4 46.3 158.7 47.7 159.7 49.1 157.8 48.7 155.0 45.9 155.0 44.0 153.1 44.9 150.3 47.3 147.0 50.6 144.6 54.3 142.7 57.6 139.9 58.5 137.1 59.0 133.3 61.8 131.5Z M97.6 5.8L104.2 5.5 107.0 7.7 107.0 11.4 103.3 11.9 99.5 12.9 97.2 11.4 97.6 8.6Z M115.0 19.9L119.7 19.9 122.1 22.7 124.0 26.0 124.9 29.8 123.0 30.7 120.2 29.8 118.3 27.0 116.0 26.0 115.0 23.2Z M159.3 -0.8L159.8 0.6 162.6 3.0 167.3 5.3 172.0 6.7 180.0 7.0 181.4 5.3 180.9 3.5 178.6 2.5 174.8 1.1 172.9 -0.8Z M156.5 34.9L160.2 32.6 164.0 32.6 164.0 37.3 164.5 42.0 161.2 41.1 157.9 39.6 156.9 37.3Z M66.6 75.0L69.0 75.4 70.8 79.2 69.9 82.5 68.0 83.4 67.1 80.6 66.6 76.9Z M137.2 90.0L139.1 91.9 141.0 96.6 140.0 98.5 136.3 98.9 134.8 97.1 136.3 92.8Z M69.4 158.7L71.3 157.8 73.2 160.1 74.6 163.4 74.6 166.7 72.7 166.2 70.4 162.5Z M193.6 50.5L188.0 50.9 184.2 53.7 181.8 57.0 180.9 59.9 180.4 61.7 178.6 61.7 170.1 61.3 170.6 63.7 171.0 63.7 172.9 66.5 178.6 67.0 184.2 66.0 188.0 65.1 189.4 63.2 193.6 63.2Z" fill="none" stroke="#3056f4" stroke-width="1.15" stroke-linejoin="round"/><circle cx="65.2" cy="13.3" r="1.15" fill="#3a5cf2"/><circle cx="96.2" cy="31.2" r="1.15" fill="#3a5cf2"/><circle cx="100.0" cy="31.7" r="1.15" fill="#3a5cf2"/><circle cx="88.0" cy="106.9" r="1.15" fill="#3a5cf2"/><circle cx="114.3" cy="109.8" r="1.15" fill="#3a5cf2"/><circle cx="58.5" cy="160.1" r="1.15" fill="#3a5cf2"/><circle cx="59.0" cy="162.9" r="1.15" fill="#3a5cf2"/><circle cx="176.7" cy="99.4" r="1.15" fill="#3a5cf2"/><path d="M124.9 63.7L124.0 67.5 122.1 72.2 121.1 77.8 120.2 83.4 120.2 91.9 122.1 94.7 124.9 96.6 126.3 99.4 125.8 103.2 124.0 106.0 121.6 108.8 120.7 112.6 120.2 118.2 120.7 122.0 122.1 125.7 123.0 127.7 124.0 127.7 124.0 128.6 123.0 131.5 121.1 133.3 118.3 134.3 114.6 132.9 110.8 131.0 107.0 129.6 103.3 129.6 99.5 130.5 95.8 132.4 92.0 132.9 88.7 132.4 87.3 130.5 85.9 127.7 84.0 127.7 83.1 125.7 81.2 122.0 78.8 118.2 77.9 113.5 78.8 109.8 82.1 106.5 85.4 104.1 87.8 101.3 88.2 98.5 88.7 93.8 89.2 89.1 89.6 84.4 88.7 81.6 87.8 77.8 90.1 74.0 93.9 71.2 97.6 67.5 99.5 66.0 100.9 67.5 100.9 70.3 102.3 73.1 105.2 75.4 108.9 76.4 111.7 75.4 114.6 73.1 116.4 70.3 118.3 66.5 119.3 63.7 119.6 63.7 121.2 59.0 121.9 56.0 122.6 54.3 123.4 53.9 124.0 54.5 124.5 56.5 124.5 60.0 124.9 63.7Z" fill="none" stroke="#fae0a8" stroke-width="1.15" stroke-linejoin="round"/><text x="5.8" y="20" font-family="'DejaVu Sans', sans-serif" font-size="12.3" font-weight="bold" fill="#fff">b</text><g font-family="'DejaVu Sans', sans-serif" font-size="7.8" font-weight="bold"><text x="14.8" y="76.3" fill="#3a5cf2">CHORTLE</text><text x="14.8" y="91.4" fill="#f8dca0">SPoCA – CH</text></g></svg><path d="M281.6 19.3v-2.3M281.6 211.4v2.3M329.6 19.3v-2.3M329.6 211.4v2.3M377.6 19.3v-2.3M377.6 211.4v2.3M425.6 19.3v-2.3M425.6 211.4v2.3M257.3 31.4h-2.3M449.4 31.4h2.3M257.3 79.3h-2.3M449.4 79.3h2.3M257.3 127.4h-2.3M449.4 127.4h2.3M257.3 175.2h-2.3M449.4 175.2h2.3" stroke="#333" stroke-width="0.7" fill="none"/><rect x="257.3" y="19.3" width="192.1" height="192.1" fill="none" stroke="#3a3a3a" stroke-width="0.9"/><g font-family="'DejaVu Sans', sans-serif" font-size="5.3" fill="#222"><text x="281.6" y="219.8" text-anchor="middle">-400"</text><text x="329.6" y="219.8" text-anchor="middle">-200"</text><text x="377.6" y="219.8" text-anchor="middle">0"</text><text x="425.6" y="219.8" text-anchor="middle">200"</text><text x="253" y="33.3" text-anchor="end">200"</text><text x="253" y="81.2" text-anchor="end">0"</text><text x="253" y="129.3" text-anchor="end">-200"</text><text x="253" y="177.1" text-anchor="end">-400"</text><text x="353.35" y="228.4" text-anchor="middle" font-size="5.72">Helioprojective Longitude (Solar-X)</text><text transform="translate(234.7 115.35) rotate(-89.9)" text-anchor="middle" font-size="5.75">Helioprojective Latitude (Solar-Y)</text><text x="353.35" y="16.1" text-anchor="middle" font-size="6.8" fill="#111">Coronal Hole Contours with AIA 19.3 nm Image</text></g><svg x="487.2" y="19.3" width="192.1" height="192.1" viewBox="0 0 192.1 192.1" overflow="hidden"><defs><filter id="nc" x="0" y="0" width="100%" height="100%" color-interpolation-filters="sRGB"><feTurbulence type="fractalNoise" baseFrequency="0.5" numOctaves="2" seed="7" result="t1"/><feColorMatrix in="t1" type="matrix" values="1 0 0 0 0  1 0 0 0 0  1 0 0 0 0  0 0 0 0 1" result="g1"/><feTurbulence type="fractalNoise" baseFrequency="0.14" numOctaves="1" seed="19" result="t2"/><feColorMatrix in="t2" type="matrix" values="1 0 0 0 0  1 0 0 0 0  1 0 0 0 0  0 0 0 0 1" result="g2"/><feComposite in="g1" in2="g2" operator="arithmetic" k1="0" k2="0.85" k3="0.65" k4="-0.22"/></filter></defs><rect width="192.1" height="192.1" fill="#8c8c8c" filter="url(#nc)"/><g><ellipse cx="119.1" cy="141.5" rx="1.24" ry="2.15" fill="#111" opacity="0.80"/><ellipse cx="175.4" cy="7.5" rx="0.97" ry="1.70" fill="#111" opacity="0.76"/><ellipse cx="171.4" cy="23.3" rx="0.98" ry="1.02" fill="#111" opacity="0.72"/><ellipse cx="109.9" cy="4.5" rx="0.77" ry="0.83" fill="#111" opacity="0.87"/><ellipse cx="146.0" cy="32.0" rx="1.24" ry="1.16" fill="#111" opacity="0.75"/><ellipse cx="25.8" cy="2.3" rx="1.30" ry="1.31" fill="#111" opacity="0.59"/><ellipse cx="186.7" cy="166.0" rx="0.83" ry="1.46" fill="#111" opacity="0.72"/><ellipse cx="129.4" cy="40.5" rx="1.35" ry="2.02" fill="#111" opacity="0.89"/><ellipse cx="170.0" cy="58.2" rx="0.89" ry="0.86" fill="#111" opacity="0.56"/><ellipse cx="14.2" cy="58.7" rx="1.08" ry="0.87" fill="#111" opacity="0.77"/><ellipse cx="65.5" cy="60.3" rx="1.25" ry="1.61" fill="#111" opacity="0.63"/><ellipse cx="92.5" cy="134.5" rx="0.65" ry="1.15" fill="#111" opacity="0.51"/><ellipse cx="143.0" cy="160.8" rx="0.61" ry="0.98" fill="#111" opacity="0.65"/><ellipse cx="110.8" cy="3.7" rx="0.64" ry="0.63" fill="#111" opacity="0.88"/><ellipse cx="38.9" cy="144.1" rx="1.34" ry="2.34" fill="#111" opacity="0.64"/><ellipse cx="68.7" cy="100.6" rx="1.22" ry="1.11" fill="#111" opacity="0.80"/><ellipse cx="151.9" cy="163.6" rx="0.63" ry="1.10" fill="#111" opacity="0.54"/><ellipse cx="66.1" cy="116.8" rx="1.33" ry="1.52" fill="#111" opacity="0.87"/><ellipse cx="104.5" cy="60.7" rx="0.85" ry="0.83" fill="#111" opacity="0.53"/><ellipse cx="30.0" cy="131.6" rx="1.40" ry="1.34" fill="#111" opacity="0.52"/><ellipse cx="187.5" cy="102.3" rx="0.92" ry="0.96" fill="#111" opacity="0.74"/><ellipse cx="157.3" cy="87.7" rx="0.94" ry="0.80" fill="#111" opacity="0.87"/><ellipse cx="8.2" cy="94.8" rx="1.27" ry="1.18" fill="#111" opacity="0.79"/><ellipse cx="180.6" cy="120.5" rx="1.23" ry="1.12" fill="#111" opacity="0.67"/><ellipse cx="30.1" cy="160.8" rx="0.84" ry="1.05" fill="#111" opacity="0.90"/><ellipse cx="162.2" cy="185.5" rx="0.96" ry="1.24" fill="#111" opacity="0.79"/><ellipse cx="92.1" cy="56.7" rx="0.92" ry="0.87" fill="#111" opacity="0.65"/><ellipse cx="187.8" cy="182.4" rx="1.10" ry="1.43" fill="#111" opacity="0.64"/><ellipse cx="18.8" cy="53.2" rx="1.23" ry="2.04" fill="#111" opacity="0.64"/><ellipse cx="149.8" cy="147.7" rx="1.16" ry="1.69" fill="#111" opacity="0.80"/><ellipse cx="70.3" cy="134.4" rx="0.82" ry="1.06" fill="#111" opacity="0.81"/><ellipse cx="131.9" cy="57.2" rx="1.36" ry="1.97" fill="#111" opacity="0.73"/><ellipse cx="4.2" cy="104.8" rx="0.80" ry="1.18" fill="#111" opacity="0.69"/><ellipse cx="155.5" cy="123.7" rx="1.24" ry="1.42" fill="#111" opacity="0.76"/><ellipse cx="140.7" cy="157.7" rx="0.88" ry="1.45" fill="#111" opacity="0.85"/><ellipse cx="131.4" cy="185.5" rx="1.37" ry="1.80" fill="#111" opacity="0.71"/><ellipse cx="33.2" cy="159.3" rx="1.35" ry="1.72" fill="#111" opacity="0.78"/><ellipse cx="137.3" cy="139.3" rx="0.74" ry="1.17" fill="#111" opacity="0.73"/><ellipse cx="127.1" cy="81.1" rx="1.10" ry="1.73" fill="#111" opacity="0.75"/><ellipse cx="137.4" cy="7.2" rx="0.73" ry="0.90" fill="#111" opacity="0.76"/><ellipse cx="43.2" cy="131.0" rx="1.10" ry="0.93" fill="#111" opacity="0.69"/><ellipse cx="44.5" cy="12.2" rx="0.71" ry="0.79" fill="#111" opacity="0.57"/><ellipse cx="38.4" cy="8.7" rx="0.97" ry="1.15" fill="#111" opacity="0.74"/><ellipse cx="113.0" cy="46.7" rx="1.32" ry="1.06" fill="#111" opacity="0.66"/><ellipse cx="54.4" cy="79.1" rx="0.69" ry="1.13" fill="#111" opacity="0.65"/><ellipse cx="8.8" cy="117.4" rx="0.68" ry="0.91" fill="#111" opacity="0.64"/><ellipse cx="111.2" cy="182.2" rx="1.25" ry="1.53" fill="#111" opacity="0.83"/><ellipse cx="122.8" cy="71.5" rx="0.71" ry="1.00" fill="#111" opacity="0.73"/><ellipse cx="182.0" cy="184.0" rx="1.09" ry="1.25" fill="#111" opacity="0.86"/><ellipse cx="2.2" cy="22.3" rx="1.05" ry="1.49" fill="#111" opacity="0.56"/><ellipse cx="120.3" cy="169.6" rx="0.90" ry="1.11" fill="#111" opacity="0.59"/><ellipse cx="56.8" cy="184.8" rx="0.90" ry="1.59" fill="#111" opacity="0.87"/><ellipse cx="114.0" cy="50.8" rx="1.38" ry="1.80" fill="#111" opacity="0.67"/><ellipse cx="62.0" cy="187.0" rx="0.99" ry="1.08" fill="#111" opacity="0.69"/><ellipse cx="24.9" cy="118.9" rx="0.95" ry="1.04" fill="#111" opacity="0.81"/><ellipse cx="157.4" cy="4.5" rx="1.03" ry="1.10" fill="#111" opacity="0.87"/><ellipse cx="149.0" cy="48.2" rx="0.81" ry="0.78" fill="#111" opacity="0.90"/><ellipse cx="57.1" cy="116.3" rx="0.98" ry="1.42" fill="#111" opacity="0.74"/><ellipse cx="141.8" cy="24.2" rx="1.21" ry="1.33" fill="#111" opacity="0.71"/><ellipse cx="65.2" cy="57.8" rx="1.02" ry="1.29" fill="#111" opacity="0.64"/><ellipse cx="142.1" cy="113.1" rx="0.63" ry="0.66" fill="#111" opacity="0.68"/><ellipse cx="174.3" cy="168.9" rx="1.04" ry="0.84" fill="#111" opacity="0.81"/><ellipse cx="82.4" cy="110.2" rx="1.17" ry="1.67" fill="#111" opacity="0.69"/><ellipse cx="173.4" cy="74.5" rx="0.91" ry="1.51" fill="#111" opacity="0.58"/><ellipse cx="57.7" cy="158.0" rx="0.65" ry="1.07" fill="#111" opacity="0.78"/><ellipse cx="83.4" cy="55.8" rx="1.22" ry="2.09" fill="#111" opacity="0.56"/><ellipse cx="91.9" cy="105.2" rx="1.00" ry="1.13" fill="#111" opacity="0.56"/><ellipse cx="112.1" cy="154.6" rx="0.65" ry="0.67" fill="#111" opacity="0.83"/><ellipse cx="150.8" cy="126.8" rx="0.62" ry="0.94" fill="#111" opacity="0.89"/><ellipse cx="189.7" cy="133.8" rx="0.64" ry="1.05" fill="#111" opacity="0.59"/><ellipse cx="123.4" cy="181.0" rx="1.00" ry="0.93" fill="#fff" opacity="0.62"/><ellipse cx="174.6" cy="30.1" rx="0.93" ry="1.13" fill="#fff" opacity="0.56"/><ellipse cx="119.0" cy="10.2" rx="0.58" ry="0.68" fill="#fff" opacity="0.53"/><ellipse cx="12.8" cy="110.1" rx="1.02" ry="1.71" fill="#fff" opacity="0.55"/><ellipse cx="83.2" cy="61.1" rx="0.92" ry="1.19" fill="#fff" opacity="0.88"/><ellipse cx="72.3" cy="12.5" rx="0.99" ry="0.94" fill="#fff" opacity="0.75"/><ellipse cx="97.1" cy="173.2" rx="0.89" ry="1.26" fill="#fff" opacity="0.61"/><ellipse cx="105.7" cy="49.8" rx="1.03" ry="1.35" fill="#fff" opacity="0.55"/><ellipse cx="46.1" cy="71.8" rx="1.02" ry="0.99" fill="#fff" opacity="0.79"/><ellipse cx="125.1" cy="18.0" rx="0.97" ry="0.86" fill="#fff" opacity="0.55"/><ellipse cx="113.7" cy="46.9" rx="1.11" ry="1.43" fill="#fff" opacity="0.63"/><ellipse cx="151.7" cy="7.5" rx="1.01" ry="0.86" fill="#fff" opacity="0.56"/><ellipse cx="181.0" cy="130.0" rx="0.66" ry="0.60" fill="#fff" opacity="0.89"/><ellipse cx="127.0" cy="156.3" rx="0.60" ry="0.85" fill="#fff" opacity="0.64"/><ellipse cx="46.2" cy="64.7" rx="0.93" ry="1.07" fill="#fff" opacity="0.65"/><ellipse cx="27.6" cy="158.2" rx="0.95" ry="1.53" fill="#fff" opacity="0.67"/><ellipse cx="162.1" cy="99.3" rx="0.91" ry="1.26" fill="#fff" opacity="0.80"/><ellipse cx="76.4" cy="20.2" rx="0.52" ry="0.52" fill="#fff" opacity="0.52"/><ellipse cx="169.2" cy="92.4" rx="1.03" ry="0.83" fill="#fff" opacity="0.69"/><ellipse cx="169.3" cy="118.5" rx="0.80" ry="1.01" fill="#fff" opacity="0.54"/><ellipse cx="31.1" cy="31.9" rx="0.76" ry="0.90" fill="#fff" opacity="0.85"/><ellipse cx="30.6" cy="49.8" rx="0.69" ry="0.67" fill="#fff" opacity="0.61"/><ellipse cx="46.2" cy="92.6" rx="0.52" ry="0.90" fill="#fff" opacity="0.65"/><ellipse cx="178.3" cy="131.3" rx="0.97" ry="1.24" fill="#fff" opacity="0.88"/><ellipse cx="24.2" cy="127.7" rx="0.70" ry="1.04" fill="#fff" opacity="0.79"/><ellipse cx="32.7" cy="39.8" rx="0.52" ry="0.53" fill="#fff" opacity="0.53"/><ellipse cx="77.4" cy="185.0" rx="0.75" ry="0.84" fill="#fff" opacity="0.69"/><ellipse cx="55.2" cy="139.7" rx="1.00" ry="0.97" fill="#fff" opacity="0.60"/><ellipse cx="128.4" cy="178.8" rx="0.95" ry="1.17" fill="#fff" opacity="0.89"/><ellipse cx="3.2" cy="13.4" rx="1.05" ry="1.27" fill="#fff" opacity="0.52"/><ellipse cx="105.1" cy="188.0" rx="0.86" ry="0.99" fill="#fff" opacity="0.54"/><ellipse cx="15.4" cy="171.0" rx="0.84" ry="1.46" fill="#fff" opacity="0.52"/><ellipse cx="47.8" cy="11.5" rx="0.78" ry="0.67" fill="#fff" opacity="0.60"/><ellipse cx="78.6" cy="59.5" rx="0.54" ry="0.45" fill="#fff" opacity="0.89"/><ellipse cx="35.7" cy="97.6" rx="0.78" ry="1.04" fill="#fff" opacity="0.53"/><ellipse cx="61.0" cy="22.3" rx="0.88" ry="1.51" fill="#fff" opacity="0.74"/><ellipse cx="163.1" cy="42.3" rx="0.51" ry="0.69" fill="#fff" opacity="0.69"/><ellipse cx="109.4" cy="72.8" rx="0.94" ry="1.43" fill="#fff" opacity="0.87"/><ellipse cx="59.8" cy="86.4" rx="1.08" ry="1.10" fill="#fff" opacity="0.55"/><ellipse cx="60.6" cy="18.5" rx="1.04" ry="1.69" fill="#fff" opacity="0.63"/><ellipse cx="26.4" cy="17.4" rx="0.67" ry="0.59" fill="#fff" opacity="0.67"/><ellipse cx="110.5" cy="48.1" rx="0.54" ry="0.81" fill="#fff" opacity="0.52"/><ellipse cx="39.6" cy="55.8" rx="0.76" ry="0.68" fill="#fff" opacity="0.67"/><ellipse cx="61.0" cy="143.4" rx="0.89" ry="1.51" fill="#fff" opacity="0.76"/><ellipse cx="144.8" cy="110.0" rx="0.81" ry="1.31" fill="#fff" opacity="0.76"/><ellipse cx="181.5" cy="138.9" rx="0.99" ry="1.06" fill="#fff" opacity="0.82"/><ellipse cx="73.9" cy="26.5" rx="0.55" ry="0.53" fill="#fff" opacity="0.61"/><ellipse cx="129.1" cy="55.7" rx="0.54" ry="0.85" fill="#fff" opacity="0.72"/><ellipse cx="7.2" cy="11.5" rx="0.59" ry="0.68" fill="#fff" opacity="0.84"/><ellipse cx="180.5" cy="117.1" rx="0.66" ry="0.81" fill="#fff" opacity="0.64"/><ellipse cx="64.1" cy="4.3" rx="0.91" ry="1.48" fill="#fff" opacity="0.79"/><ellipse cx="19.9" cy="101.7" rx="0.62" ry="0.94" fill="#fff" opacity="0.68"/><ellipse cx="178.4" cy="151.4" rx="0.58" ry="0.65" fill="#fff" opacity="0.87"/><ellipse cx="88.7" cy="83.6" rx="0.81" ry="1.27" fill="#fff" opacity="0.87"/><ellipse cx="102.1" cy="184.3" rx="0.92" ry="0.83" fill="#fff" opacity="0.83"/><ellipse cx="80.9" cy="11.8" rx="1.18" ry="0.99" fill="#fff" opacity="0.73"/><ellipse cx="92.6" cy="167.8" rx="0.77" ry="0.79" fill="#fff" opacity="0.61"/><ellipse cx="39.8" cy="107.7" rx="0.75" ry="1.16" fill="#fff" opacity="0.60"/><ellipse cx="68.1" cy="48.7" rx="1.19" ry="1.95" fill="#fff" opacity="0.84"/><ellipse cx="118.2" cy="77.4" rx="0.60" ry="0.98" fill="#fff" opacity="0.70"/><ellipse cx="9.1" cy="33.9" rx="0.57" ry="0.86" fill="#fff" opacity="0.86"/><ellipse cx="39.5" cy="151.8" rx="0.73" ry="1.08" fill="#fff" opacity="0.85"/><ellipse cx="119.1" cy="152.5" rx="0.76" ry="0.62" fill="#fff" opacity="0.70"/><ellipse cx="112.3" cy="36.7" rx="0.77" ry="0.86" fill="#fff" opacity="0.51"/><ellipse cx="60.7" cy="74.0" rx="0.83" ry="1.25" fill="#fff" opacity="0.66"/><ellipse cx="186.7" cy="155.3" rx="1.15" ry="1.71" fill="#fff" opacity="0.77"/><ellipse cx="102.9" cy="152.2" rx="0.75" ry="1.05" fill="#fff" opacity="0.77"/><ellipse cx="100.2" cy="55.4" rx="0.55" ry="0.49" fill="#fff" opacity="0.64"/><ellipse cx="111.1" cy="144.8" rx="1.00" ry="1.11" fill="#fff" opacity="0.87"/><ellipse cx="53.6" cy="136.6" rx="0.55" ry="0.86" fill="#fff" opacity="0.77"/><ellipse cx="181.9" cy="170.7" rx="0.98" ry="1.61" fill="#fff" opacity="0.80"/><ellipse cx="116.9" cy="41.2" rx="0.86" ry="1.46" fill="#fff" opacity="0.60"/><ellipse cx="185.2" cy="104.3" rx="0.78" ry="0.62" fill="#fff" opacity="0.66"/><ellipse cx="35.5" cy="124.8" rx="1.13" ry="1.93" fill="#fff" opacity="0.75"/><ellipse cx="74.7" cy="22.5" rx="0.98" ry="1.33" fill="#fff" opacity="0.79"/><ellipse cx="72.3" cy="168.7" rx="0.65" ry="0.72" fill="#fff" opacity="0.61"/><ellipse cx="119.0" cy="170.7" rx="0.62" ry="0.88" fill="#fff" opacity="0.81"/><ellipse cx="44.2" cy="13.8" rx="0.90" ry="1.46" fill="#fff" opacity="0.85"/><ellipse cx="138.9" cy="80.4" rx="0.80" ry="1.06" fill="#fff" opacity="0.86"/><ellipse cx="58.8" cy="54.8" rx="0.92" ry="1.63" fill="#fff" opacity="0.57"/><ellipse cx="7.7" cy="23.7" rx="0.89" ry="1.25" fill="#fff" opacity="0.57"/><ellipse cx="37.8" cy="113.8" rx="0.95" ry="1.42" fill="#fff" opacity="0.79"/><ellipse cx="13.5" cy="93.1" rx="1.08" ry="1.91" fill="#fff" opacity="0.63"/><ellipse cx="161.9" cy="123.3" rx="1.15" ry="1.18" fill="#fff" opacity="0.78"/><ellipse cx="160.1" cy="91.6" rx="0.57" ry="0.57" fill="#fff" opacity="0.56"/><ellipse cx="19.5" cy="30.6" rx="0.93" ry="0.84" fill="#fff" opacity="0.80"/><ellipse cx="140.4" cy="155.5" rx="1.06" ry="1.61" fill="#fff" opacity="0.87"/><ellipse cx="181.9" cy="119.5" rx="1.18" ry="1.06" fill="#fff" opacity="0.54"/><ellipse cx="14.1" cy="40.8" rx="0.76" ry="0.96" fill="#fff" opacity="0.77"/><ellipse cx="141.7" cy="17.8" rx="0.78" ry="1.05" fill="#fff" opacity="0.65"/></g><path d="M24.3 0V192.1M72.3 0V192.1M120.3 0V192.1M168.3 0V192.1M0 12.1H192.1M0 60H192.1M0 108.1H192.1M0 155.9H192.1" stroke="rgba(0,0,0,0.3)" stroke-width="0.75" fill="none"/><path d="M44.4 3.5L55.3 3.5 57.6 4.9 60.0 6.7 61.8 8.6 63.8 10.0 63.8 10.0 66.6 10.5 68.0 12.9 70.4 15.7 73.2 16.1 76.0 18.0 78.8 19.9 81.2 21.8 83.5 23.2 84.5 24.6 85.9 23.7 86.8 22.3 85.4 20.8 84.5 19.0 85.9 17.1 87.3 14.3 91.1 14.3 92.5 16.1 93.9 18.5 93.9 21.3 94.8 24.1 94.8 27.0 96.2 25.5 97.2 22.7 99.5 21.8 104.2 21.1 108.0 21.3 108.4 25.1 108.0 29.8 107.5 33.5 105.2 35.9 102.8 37.3 102.3 39.6 103.7 42.0 105.2 43.9 105.6 46.7 107.0 46.2 108.9 44.8 110.8 43.9 112.2 45.3 112.7 47.2 113.1 44.8 112.7 42.0 114.6 41.1 117.4 41.1 118.8 38.2 118.8 35.4 120.2 34.3 124.0 34.3 125.8 36.4 126.8 39.2 127.8 42.0 127.8 46.7 131.6 50.5 135.3 52.3 137.2 55.2 137.2 59.9 136.7 63.7 137.7 63.7 137.2 66.5 133.4 69.3 127.8 73.1 127.8 73.1 125.8 74.5 125.8 82.5 125.4 88.1 126.3 91.0 127.8 91.4 127.8 89.1 130.6 86.3 133.4 83.4 137.2 82.0 141.0 82.5 141.9 86.3 144.2 86.7 147.5 85.8 148.9 83.9 149.9 80.1 152.2 77.8 156.0 76.9 160.7 76.9 165.4 76.4 169.2 76.4 172.9 77.8 176.7 79.7 180.4 80.1 184.2 79.2 187.0 79.2 187.5 82.5 185.1 87.2 184.7 91.0 186.5 93.8 187.5 96.6 186.1 99.4 183.3 101.3 180.9 103.2 180.4 106.9 180.0 109.8 176.7 109.8 173.9 110.7 171.5 111.6 171.0 107.9 170.6 104.1 170.1 100.4 169.2 97.5 167.7 93.8 162.6 93.8 156.0 93.8 154.6 95.7 154.1 98.5 152.2 101.3 148.5 103.2 145.2 104.1 141.9 105.1 140.0 107.9 140.0 111.6 137.2 113.5 133.4 113.5 129.7 113.5 127.8 114.0 127.8 114.9 122.1 115.4 122.1 120.1 127.8 121.0 127.8 121.0 128.7 122.0 130.6 123.9 132.5 127.7 132.0 127.7 133.4 128.6 133.9 130.5 132.0 131.9 130.6 133.8 127.8 135.2 127.8 135.2 125.8 135.7 124.0 137.1 120.2 139.4 117.4 140.4 113.6 140.4 109.9 139.4 106.1 138.0 104.2 136.6 102.3 137.1 102.8 141.8 103.3 145.6 101.4 147.0 99.0 146.5 96.7 146.5 96.2 148.4 98.6 150.3 100.9 151.7 103.3 152.6 106.1 153.5 109.4 154.5 112.7 155.9 116.0 157.8 118.3 159.7 121.1 161.5 124.9 162.9 127.2 164.4 126.8 166.2 123.0 166.2 119.3 165.3 115.5 164.4 111.7 162.9 108.0 162.0 103.3 162.5 99.5 163.4 96.2 163.9 94.8 162.5 95.3 159.7 95.3 155.9 93.9 154.0 91.1 152.6 87.8 152.1 86.4 150.3 86.8 147.9 89.2 145.6 91.1 144.1 89.6 142.3 90.6 141.3 92.5 142.3 93.9 143.2 93.9 139.4 92.9 137.6 89.6 137.6 86.4 138.0 82.6 136.6 78.8 134.7 76.0 132.4 76.0 127.7 77.4 127.7 76.0 124.8 74.1 122.0 72.7 118.2 73.2 114.5 73.7 110.7 72.7 107.9 73.2 105.1 76.0 102.2 76.0 98.5 77.0 94.7 78.8 91.9 80.2 89.1 79.8 86.3 81.2 82.5 81.7 77.8 81.2 73.1 80.7 70.3 81.2 67.5 83.5 65.1 86.8 63.7 86.8 63.7 88.2 59.9 90.1 57.5 92.0 56.1 95.8 55.2 97.6 53.7 95.8 52.8 93.9 50.9 92.5 48.6 91.1 46.7 89.6 44.8 88.2 44.3 86.8 47.2 84.0 46.2 80.7 44.8 77.4 42.9 74.1 41.5 72.3 40.6 69.4 38.2 67.6 36.4 65.2 30.7 63.8 27.0 63.8 25.3 62.8 24.3 61.8 26.5 61.8 30.7 60.9 34.5 58.5 37.3 58.5 40.1 51.5 40.1 50.6 38.2 49.6 35.4 50.6 32.6 52.0 29.8 52.4 27.0 52.0 25.1 50.6 25.5 49.1 27.9 46.8 29.8 44.9 29.3 43.0 27.9 41.6 25.5 40.7 26.5 41.2 29.3 38.8 31.2 36.9 29.8 35.0 27.0 36.0 23.2 38.3 19.9 36.9 18.0 37.9 14.7 41.2 12.9 44.0 9.1Z M63.8 129.6L63.8 129.6 66.6 129.6 69.0 132.4 71.3 136.2 71.3 146.5 68.5 149.3 63.8 149.8 63.8 148.4 61.8 147.9 59.5 148.4 59.0 150.3 60.0 155.9 61.4 157.8 62.3 161.5 62.8 165.3 63.8 167.2 63.8 165.3 65.7 169.1 63.8 172.8 63.8 172.8 60.0 172.3 56.2 171.4 55.3 169.1 54.3 168.1 53.8 171.9 52.4 172.8 52.0 176.6 51.0 178.9 48.7 178.5 47.3 177.0 46.8 174.2 45.9 174.7 44.0 177.0 41.2 177.0 37.4 178.0 33.6 177.0 32.7 174.7 31.8 171.9 30.8 168.1 32.2 166.2 33.2 163.4 35.0 160.6 36.0 157.8 39.3 156.8 43.0 155.9 45.9 156.4 46.3 158.7 47.7 159.7 49.1 157.8 48.7 155.0 45.9 155.0 44.0 153.1 44.9 150.3 47.3 147.0 50.6 144.6 54.3 142.7 57.6 139.9 58.5 137.1 59.0 133.3 61.8 131.5Z M97.6 5.8L104.2 5.5 107.0 7.7 107.0 11.4 103.3 11.9 99.5 12.9 97.2 11.4 97.6 8.6Z M115.0 19.9L119.7 19.9 122.1 22.7 124.0 26.0 124.9 29.8 123.0 30.7 120.2 29.8 118.3 27.0 116.0 26.0 115.0 23.2Z M159.3 -0.8L159.8 0.6 162.6 3.0 167.3 5.3 172.0 6.7 180.0 7.0 181.4 5.3 180.9 3.5 178.6 2.5 174.8 1.1 172.9 -0.8Z M156.5 34.9L160.2 32.6 164.0 32.6 164.0 37.3 164.5 42.0 161.2 41.1 157.9 39.6 156.9 37.3Z M66.6 75.0L69.0 75.4 70.8 79.2 69.9 82.5 68.0 83.4 67.1 80.6 66.6 76.9Z M137.2 90.0L139.1 91.9 141.0 96.6 140.0 98.5 136.3 98.9 134.8 97.1 136.3 92.8Z M69.4 158.7L71.3 157.8 73.2 160.1 74.6 163.4 74.6 166.7 72.7 166.2 70.4 162.5Z M193.6 50.5L188.0 50.9 184.2 53.7 181.8 57.0 180.9 59.9 180.4 61.7 178.6 61.7 170.1 61.3 170.6 63.7 171.0 63.7 172.9 66.5 178.6 67.0 184.2 66.0 188.0 65.1 189.4 63.2 193.6 63.2Z" fill="none" stroke="#3355f0" stroke-width="1.2" stroke-linejoin="round"/><circle cx="65.2" cy="13.3" r="1.15" fill="#3355f0"/><circle cx="96.2" cy="31.2" r="1.15" fill="#3355f0"/><circle cx="100.0" cy="31.7" r="1.15" fill="#3355f0"/><circle cx="88.0" cy="106.9" r="1.15" fill="#3355f0"/><circle cx="114.3" cy="109.8" r="1.15" fill="#3355f0"/><circle cx="58.5" cy="160.1" r="1.15" fill="#3355f0"/><circle cx="59.0" cy="162.9" r="1.15" fill="#3355f0"/><circle cx="176.7" cy="99.4" r="1.15" fill="#3355f0"/><path d="M124.9 63.7L124.0 67.5 122.1 72.2 121.1 77.8 120.2 83.4 120.2 91.9 122.1 94.7 124.9 96.6 126.3 99.4 125.8 103.2 124.0 106.0 121.6 108.8 120.7 112.6 120.2 118.2 120.7 122.0 122.1 125.7 123.0 127.7 124.0 127.7 124.0 128.6 123.0 131.5 121.1 133.3 118.3 134.3 114.6 132.9 110.8 131.0 107.0 129.6 103.3 129.6 99.5 130.5 95.8 132.4 92.0 132.9 88.7 132.4 87.3 130.5 85.9 127.7 84.0 127.7 83.1 125.7 81.2 122.0 78.8 118.2 77.9 113.5 78.8 109.8 82.1 106.5 85.4 104.1 87.8 101.3 88.2 98.5 88.7 93.8 89.2 89.1 89.6 84.4 88.7 81.6 87.8 77.8 90.1 74.0 93.9 71.2 97.6 67.5 99.5 66.0 100.9 67.5 100.9 70.3 102.3 73.1 105.2 75.4 108.9 76.4 111.7 75.4 114.6 73.1 116.4 70.3 118.3 66.5 119.3 63.7 119.6 63.7 121.2 59.0 121.9 56.0 122.6 54.3 123.4 53.9 124.0 54.5 124.5 56.5 124.5 60.0 124.9 63.7Z" fill="none" stroke="#f8dca0" stroke-width="1.2" stroke-linejoin="round"/><text x="5.8" y="20" font-family="'DejaVu Sans', sans-serif" font-size="12.3" font-weight="bold" fill="#fff">c</text><rect x="12.5" y="69.8" width="44.2" height="10.3" fill="#e4e4e4" fill-opacity="0.62"/><rect x="12.5" y="83.4" width="54.3" height="11.3" fill="#e4e4e4" fill-opacity="0.62"/><g font-family="'DejaVu Sans', sans-serif" font-size="7.8" font-weight="bold"><text x="14.8" y="76.3" fill="#3a5cf2">CHORTLE</text><text x="14.8" y="91.4" fill="#f8dca0">SPoCA – CH</text></g></svg><path d="M511.5 211.4V223.4M559.5 211.4V223.4M607.5 211.4V223.4M655.5 211.4V223.4M487.6 223.4H678.8" stroke="#b4b4b4" stroke-width="0.8" fill="none"/><path d="M511.5 19.3v-2.3M511.5 211.4v2.3M559.5 19.3v-2.3M559.5 211.4v2.3M607.5 19.3v-2.3M607.5 211.4v2.3M655.5 19.3v-2.3M655.5 211.4v2.3M487.2 31.4h-2.3M679.3 31.4h2.3M487.2 79.3h-2.3M679.3 79.3h2.3M487.2 127.4h-2.3M679.3 127.4h2.3M487.2 175.2h-2.3M679.3 175.2h2.3" stroke="#333" stroke-width="0.7" fill="none"/><rect x="487.2" y="19.3" width="192.1" height="192.1" fill="none" stroke="#3a3a3a" stroke-width="0.9"/><g font-family="'DejaVu Sans', sans-serif" font-size="5.3" fill="#222"><text x="511.5" y="219.8" text-anchor="middle">-400"</text><text x="559.5" y="219.8" text-anchor="middle">-200"</text><text x="607.5" y="219.8" text-anchor="middle">0"</text><text x="655.5" y="219.8" text-anchor="middle">200"</text><text x="482.9" y="33.3" text-anchor="end">200"</text><text x="482.9" y="81.2" text-anchor="end">0"</text><text x="482.9" y="129.3" text-anchor="end">-200"</text><text x="482.9" y="177.1" text-anchor="end">-400"</text><text x="583.25" y="228.4" text-anchor="middle" font-size="5.72">Helioprojective Longitude (Solar-X)</text><text transform="translate(464.6 115.35) rotate(-89.9)" text-anchor="middle" font-size="5.75">Helioprojective Latitude (Solar-Y)</text><text x="583.25" y="16.1" text-anchor="middle" font-size="6.8" fill="#111">Coronal Hole Contours with HMI LOS Magnetogram</text></g><g stroke="#d9d9d9" stroke-width="1"><line x1="50" y1="269.62" x2="334.8" y2="269.62"/><line x1="50" y1="280.88" x2="334.8" y2="280.88"/><line x1="50" y1="292.12" x2="334.8" y2="292.12"/><line x1="50" y1="303.38" x2="334.8" y2="303.38"/><line x1="50" y1="314.62" x2="334.8" y2="314.62"/><line x1="50" y1="325.88" x2="334.8" y2="325.88"/><line x1="50" y1="337.12" x2="334.8" y2="337.12"/><line x1="50" y1="348.38" x2="334.8" y2="348.38"/><line x1="50" y1="359.62" x2="334.8" y2="359.62"/><line x1="50" y1="370.88" x2="334.8" y2="370.88"/><line x1="50" y1="382.12" x2="334.8" y2="382.12"/><line x1="50" y1="393.38" x2="334.8" y2="393.38"/><line x1="50" y1="404.62" x2="334.8" y2="404.62"/><line x1="50" y1="415.88" x2="334.8" y2="415.88"/><line x1="50" y1="427.12" x2="334.8" y2="427.12"/><line x1="50" y1="438.38" x2="334.8" y2="438.38"/><line x1="62.3" y1="264" x2="62.3" y2="444"/><line x1="101.4" y1="264" x2="101.4" y2="444"/><line x1="140.1" y1="264" x2="140.1" y2="444"/><line x1="178.8" y1="264" x2="178.8" y2="444"/><line x1="217.4" y1="264" x2="217.4" y2="444"/><line x1="255.9" y1="264" x2="255.9" y2="444"/><line x1="294.5" y1="264" x2="294.5" y2="444"/><line x1="333.2" y1="264" x2="333.2" y2="444"/></g><g stroke="#222" stroke-width="0.8"><line x1="62.3" y1="260.4" x2="62.3" y2="264"/><line x1="101.4" y1="260.4" x2="101.4" y2="264"/><line x1="140.1" y1="260.4" x2="140.1" y2="264"/><line x1="178.8" y1="260.4" x2="178.8" y2="264"/><line x1="217.4" y1="260.4" x2="217.4" y2="264"/><line x1="255.9" y1="260.4" x2="255.9" y2="264"/><line x1="294.5" y1="260.4" x2="294.5" y2="264"/><line x1="333.2" y1="260.4" x2="333.2" y2="264"/></g><g font-family="'Liberation Sans', Arial, sans-serif" font-size="7" fill="#1a1a1a" stroke="#1a1a1a" stroke-width="0.18" text-anchor="middle"><text x="62.3" y="255.7">20000</text><text x="101.4" y="255.7">30000</text><text x="140.1" y="255.7">40000</text><text x="178.8" y="255.7">50000</text><text x="217.4" y="255.7">60000</text><text x="255.9" y="255.7">70000</text><text x="294.5" y="255.7">80000</text><text x="333.2" y="255.7">90000</text></g><g font-family="'Liberation Sans', Arial, sans-serif" font-size="7" fill="#1a1a1a" stroke="#1a1a1a" stroke-width="0.18" text-anchor="end"><text x="43.5" y="272.43">Boxplot</text><text x="43.5" y="283.68">ACWE03</text><text x="43.5" y="294.93">ACWE04</text><text x="43.5" y="306.18">CATCH</text><text x="43.5" y="317.43">CHARM</text><text x="43.5" y="328.68">CHIMERA</text><text x="43.5" y="339.93">CHIPS</text><text x="43.5" y="351.18">CHMAP</text><text x="43.5" y="362.43">CHORTLE</text><text x="43.5" y="373.68">CHRONNOS</text><text x="43.5" y="384.93">CNN193</text><text x="43.5" y="396.18">SPoCA-CH</text><text x="43.5" y="407.43">SPoCA-HEK</text><text x="43.5" y="418.68">SYNCH</text><text x="43.5" y="429.93">TH35</text><text x="43.5" y="441.18">WWWBCS</text></g><g stroke="#3a3a3a" stroke-width="1.1" fill="none"><line x1="64.4" y1="269.62" x2="82.3" y2="269.62"/><line x1="115.7" y1="269.62" x2="137.3" y2="269.62"/><line x1="64.4" y1="267.23" x2="64.4" y2="272.02"/><line x1="137.3" y1="267.23" x2="137.3" y2="272.02"/><rect x="82.3" y="265.36" width="33.4" height="9.1" fill="#8eb9e4" fill-opacity="0.7"/></g><line x1="90.4" y1="265.93" x2="90.4" y2="273.93" stroke="#f07a48" stroke-width="1.1"/><g stroke="#222" stroke-width="1.05" fill="none"><path d="M318.2 267.73L322 271.52M318.2 271.52L322 267.73"/></g><g fill="#1a00dc"><path d="M82.8 277.07L85.4 280.88L82.8 284.68L80.2 280.88Z"/><path d="M90.5 288.32L93.1 292.12L90.5 295.93L87.9 292.12Z"/><path d="M110 299.57L112.6 303.38L110 307.18L107.4 303.38Z"/><path d="M86.3 310.82L88.9 314.62L86.3 318.43L83.7 314.62Z"/><path d="M137.3 322.07L139.9 325.88L137.3 329.68L134.7 325.88Z"/><path d="M132.3 333.32L134.9 337.12L132.3 340.93L129.7 337.12Z"/><path d="M67.5 344.57L70.1 348.38L67.5 352.18L64.9 348.38Z"/><path d="M320 355.82L322.6 359.62L320 363.43L317.4 359.62Z"/><path d="M81.6 367.07L84.2 370.88L81.6 374.68L79 370.88Z"/><path d="M102.3 378.32L104.9 382.12L102.3 385.93L99.7 382.12Z"/><path d="M64.7 389.57L67.3 393.38L64.7 397.18L62.1 393.38Z"/><path d="M65.6 400.82L68.2 404.62L65.6 408.43L63 404.62Z"/><path d="M87.5 412.07L90.1 415.88L87.5 419.68L84.9 415.88Z"/><path d="M99.4 423.32L102 427.12L99.4 430.93L96.8 427.12Z"/><path d="M120.8 434.57L123.4 438.38L120.8 442.18L118.2 438.38Z"/></g><text x="192.4" y="247.7" font-family="'Liberation Sans', Arial, sans-serif" font-size="8" fill="#1a1a1a" stroke="#1a1a1a" stroke-width="0.12" text-anchor="middle">Coronal Hole Area [Mm<tspan font-size="5.2" dy="-3">2</tspan><tspan dy="3">]</tspan></text><text x="9.6" y="259.4" font-family="'Liberation Sans', Arial, sans-serif" font-size="18.5" font-weight="bold" fill="#111" stroke="#111" stroke-width="0.4">d</text><g stroke="#d9d9d9" stroke-width="1"><line x1="392.6" y1="269.62" x2="677.6" y2="269.62"/><line x1="392.6" y1="280.88" x2="677.6" y2="280.88"/><line x1="392.6" y1="292.12" x2="677.6" y2="292.12"/><line x1="392.6" y1="303.38" x2="677.6" y2="303.38"/><line x1="392.6" y1="314.62" x2="677.6" y2="314.62"/><line x1="392.6" y1="325.88" x2="677.6" y2="325.88"/><line x1="392.6" y1="337.12" x2="677.6" y2="337.12"/><line x1="392.6" y1="348.38" x2="677.6" y2="348.38"/><line x1="392.6" y1="359.62" x2="677.6" y2="359.62"/><line x1="392.6" y1="370.88" x2="677.6" y2="370.88"/><line x1="392.6" y1="382.12" x2="677.6" y2="382.12"/><line x1="392.6" y1="393.38" x2="677.6" y2="393.38"/><line x1="392.6" y1="404.62" x2="677.6" y2="404.62"/><line x1="392.6" y1="415.88" x2="677.6" y2="415.88"/><line x1="392.6" y1="427.12" x2="677.6" y2="427.12"/><line x1="392.6" y1="438.38" x2="677.6" y2="438.38"/><line x1="436.6" y1="264" x2="436.6" y2="444"/><line x1="483.5" y1="264" x2="483.5" y2="444"/><line x1="530.4" y1="264" x2="530.4" y2="444"/><line x1="577.2" y1="264" x2="577.2" y2="444"/><line x1="624.1" y1="264" x2="624.1" y2="444"/><line x1="670.9" y1="264" x2="670.9" y2="444"/></g><g stroke="#222" stroke-width="0.8"><line x1="436.6" y1="260.4" x2="436.6" y2="264"/><line x1="483.5" y1="260.4" x2="483.5" y2="264"/><line x1="530.4" y1="260.4" x2="530.4" y2="264"/><line x1="577.2" y1="260.4" x2="577.2" y2="264"/><line x1="624.1" y1="260.4" x2="624.1" y2="264"/><line x1="670.9" y1="260.4" x2="670.9" y2="264"/></g><g font-family="'Liberation Sans', Arial, sans-serif" font-size="7" fill="#1a1a1a" stroke="#1a1a1a" stroke-width="0.18" text-anchor="middle"><text x="436.6" y="255.7">25</text><text x="483.5" y="255.7">30</text><text x="530.4" y="255.7">35</text><text x="577.2" y="255.7">40</text><text x="624.1" y="255.7">45</text><text x="670.9" y="255.7">50</text></g><g font-family="'Liberation Sans', Arial, sans-serif" font-size="7" fill="#1a1a1a" stroke="#1a1a1a" stroke-width="0.18" text-anchor="end"><text x="386.1" y="272.43">Boxplot</text><text x="386.1" y="283.68">ACWE03</text><text x="386.1" y="294.93">ACWE04</text><text x="386.1" y="306.18">CATCH</text><text x="386.1" y="317.43">CHARM</text><text x="386.1" y="328.68">CHIMERA</text><text x="386.1" y="339.93">CHIPS</text><text x="386.1" y="351.18">CHMAP</text><text x="386.1" y="362.43">CHORTLE</text><text x="386.1" y="373.68">CHRONNOS</text><text x="386.1" y="384.93">CNN193</text><text x="386.1" y="396.18">SPoCA-CH</text><text x="386.1" y="407.43">SPoCA-HEK</text><text x="386.1" y="418.68">SYNCH</text><text x="386.1" y="429.93">TH35</text><text x="386.1" y="441.18">WWWBCS</text></g><g stroke="#3a3a3a" stroke-width="1.1" fill="none"><line x1="407" y1="269.62" x2="424.1" y2="269.62"/><line x1="486.6" y1="269.62" x2="508.3" y2="269.62"/><line x1="407" y1="267.23" x2="407" y2="272.02"/><line x1="508.3" y1="267.23" x2="508.3" y2="272.02"/><rect x="424.1" y="265.36" width="62.5" height="9.1" fill="#8eb9e4" fill-opacity="0.7"/></g><line x1="436.6" y1="265.93" x2="436.6" y2="273.93" stroke="#f07a48" stroke-width="1.1"/><g stroke="#222" stroke-width="1.05" fill="none"><path d="M660.3 267.73L664.1 271.52M660.3 271.52L664.1 267.73"/></g><g fill="#1a00dc"><path d="M427.6 277.07L430.2 280.88L427.6 284.68L425 280.88Z"/><path d="M436.6 288.32L439.2 292.12L436.6 295.93L434 292.12Z"/><path d="M469 299.57L471.6 303.38L469 307.18L466.4 303.38Z"/><path d="M435.2 310.82L437.8 314.62L435.2 318.43L432.6 314.62Z"/><path d="M503.6 322.07L506.2 325.88L503.6 329.68L501 325.88Z"/><path d="M506.4 333.32L509 337.12L506.4 340.93L503.8 337.12Z"/><path d="M410.1 344.57L412.7 348.38L410.1 352.18L407.5 348.38Z"/><path d="M662.2 355.82L664.8 359.62L662.2 363.43L659.6 359.62Z"/><path d="M422.5 367.07L425.1 370.88L422.5 374.68L419.9 370.88Z"/><path d="M461.3 378.32L463.9 382.12L461.3 385.93L458.7 382.12Z"/><path d="M414.5 389.57L417.1 393.38L414.5 397.18L411.9 393.38Z"/><path d="M407 400.82L409.6 404.62L407 408.43L404.4 404.62Z"/><path d="M426.1 412.07L428.7 415.88L426.1 419.68L423.5 415.88Z"/><path d="M466.5 423.32L469.1 427.12L466.5 430.93L463.9 427.12Z"/><path d="M508.3 434.57L510.9 438.38L508.3 442.18L505.7 438.38Z"/></g><text x="535.1" y="247.7" font-family="'Liberation Sans', Arial, sans-serif" font-size="8" fill="#1a1a1a" stroke="#1a1a1a" stroke-width="0.12" text-anchor="middle">Average AIA 19.3 nm Intensity [DN sec<tspan font-size="5.2" dy="-3">−1</tspan><tspan dy="3">]</tspan></text><text x="352.4" y="259.4" font-family="'Liberation Sans', Arial, sans-serif" font-size="18.5" font-weight="bold" fill="#111" stroke="#111" stroke-width="0.4">e</text><g stroke="#d9d9d9" stroke-width="1"><line x1="50" y1="485.73" x2="334.8" y2="485.73"/><line x1="50" y1="496.98" x2="334.8" y2="496.98"/><line x1="50" y1="508.23" x2="334.8" y2="508.23"/><line x1="50" y1="519.48" x2="334.8" y2="519.48"/><line x1="50" y1="530.73" x2="334.8" y2="530.73"/><line x1="50" y1="541.98" x2="334.8" y2="541.98"/><line x1="50" y1="553.23" x2="334.8" y2="553.23"/><line x1="50" y1="564.48" x2="334.8" y2="564.48"/><line x1="50" y1="575.73" x2="334.8" y2="575.73"/><line x1="50" y1="586.98" x2="334.8" y2="586.98"/><line x1="50" y1="598.23" x2="334.8" y2="598.23"/><line x1="50" y1="609.48" x2="334.8" y2="609.48"/><line x1="50" y1="620.73" x2="334.8" y2="620.73"/><line x1="50" y1="631.98" x2="334.8" y2="631.98"/><line x1="50" y1="643.23" x2="334.8" y2="643.23"/><line x1="50" y1="654.48" x2="334.8" y2="654.48"/><line x1="69.4" y1="480.1" x2="69.4" y2="660.1"/><line x1="107" y1="480.1" x2="107" y2="660.1"/><line x1="144.4" y1="480.1" x2="144.4" y2="660.1"/><line x1="181.9" y1="480.1" x2="181.9" y2="660.1"/><line x1="219.3" y1="480.1" x2="219.3" y2="660.1"/><line x1="256.8" y1="480.1" x2="256.8" y2="660.1"/><line x1="294.3" y1="480.1" x2="294.3" y2="660.1"/><line x1="331.7" y1="480.1" x2="331.7" y2="660.1"/></g><g stroke="#222" stroke-width="0.8"><line x1="69.4" y1="476.5" x2="69.4" y2="480.1"/><line x1="107" y1="476.5" x2="107" y2="480.1"/><line x1="144.4" y1="476.5" x2="144.4" y2="480.1"/><line x1="181.9" y1="476.5" x2="181.9" y2="480.1"/><line x1="219.3" y1="476.5" x2="219.3" y2="480.1"/><line x1="256.8" y1="476.5" x2="256.8" y2="480.1"/><line x1="294.3" y1="476.5" x2="294.3" y2="480.1"/><line x1="331.7" y1="476.5" x2="331.7" y2="480.1"/></g><g font-family="'Liberation Sans', Arial, sans-serif" font-size="7" fill="#1a1a1a" stroke="#1a1a1a" stroke-width="0.18" text-anchor="middle"><text x="69.4" y="471.8">2.4</text><text x="107" y="471.8">2.6</text><text x="144.4" y="471.8">2.8</text><text x="181.9" y="471.8">3.0</text><text x="219.3" y="471.8">3.2</text><text x="256.8" y="471.8">3.4</text><text x="294.3" y="471.8">3.6</text><text x="331.7" y="471.8">3.8</text></g><g font-family="'Liberation Sans', Arial, sans-serif" font-size="7" fill="#1a1a1a" stroke="#1a1a1a" stroke-width="0.18" text-anchor="end"><text x="43.5" y="488.53">Boxplot</text><text x="43.5" y="499.78">ACWE03</text><text x="43.5" y="511.03">ACWE04</text><text x="43.5" y="522.27">CATCH</text><text x="43.5" y="533.52">CHARM</text><text x="43.5" y="544.77">CHIMERA</text><text x="43.5" y="556.02">CHIPS</text><text x="43.5" y="567.27">CHMAP</text><text x="43.5" y="578.52">CHORTLE</text><text x="43.5" y="589.77">CHRONNOS</text><text x="43.5" y="601.02">CNN193</text><text x="43.5" y="612.27">SPoCA-CH</text><text x="43.5" y="623.52">SPoCA-HEK</text><text x="43.5" y="634.77">SYNCH</text><text x="43.5" y="646.02">TH35</text><text x="43.5" y="657.27">WWWBCS</text></g><g stroke="#3a3a3a" stroke-width="1.1" fill="none"><line x1="64.7" y1="485.73" x2="109.8" y2="485.73"/><line x1="149.3" y1="485.73" x2="165.2" y2="485.73"/><line x1="64.7" y1="483.33" x2="64.7" y2="488.12"/><line x1="165.2" y1="483.33" x2="165.2" y2="488.12"/><rect x="109.8" y="481.46" width="39.5" height="9.1" fill="#8eb9e4" fill-opacity="0.7"/></g><line x1="132.3" y1="482.03" x2="132.3" y2="490.03" stroke="#f07a48" stroke-width="1.1"/><g stroke="#222" stroke-width="1.05" fill="none"><path d="M277.6 483.83L281.4 487.62M277.6 487.62L281.4 483.83"/><path d="M318.3 483.83L322.1 487.62M318.3 487.62L322.1 483.83"/></g><g fill="#1a00dc"><path d="M101.1 493.18L103.7 496.98L101.1 500.78L98.5 496.98Z"/><path d="M118.1 504.43L120.7 508.23L118.1 512.02L115.5 508.23Z"/><path d="M64.7 515.68L67.3 519.48L64.7 523.27L62.1 519.48Z"/><path d="M98.9 526.93L101.5 530.73L98.9 534.52L96.3 530.73Z"/><path d="M279.5 538.18L282.1 541.98L279.5 545.77L276.9 541.98Z"/><path d="M133.3 549.43L135.9 553.23L133.3 557.02L130.7 553.23Z"/><path d="M132.5 560.68L135.1 564.48L132.5 568.27L129.9 564.48Z"/><path d="M134.9 571.93L137.5 575.73L134.9 579.52L132.3 575.73Z"/><path d="M131.7 583.18L134.3 586.98L131.7 590.77L129.1 586.98Z"/><path d="M90.2 594.43L92.8 598.23L90.2 602.02L87.6 598.23Z"/><path d="M165.8 605.68L168.4 609.48L165.8 613.27L163.2 609.48Z"/><path d="M163.4 616.93L166 620.73L163.4 624.52L160.8 620.73Z"/><path d="M133.3 628.18L135.9 631.98L133.3 635.77L130.7 631.98Z"/><path d="M118.8 639.43L121.4 643.23L118.8 647.02L116.2 643.23Z"/><path d="M320.3 650.68L322.9 654.48L320.3 658.27L317.7 654.48Z"/></g><text x="192.4" y="463.8" font-family="'Liberation Sans', Arial, sans-serif" font-size="7.9" fill="#1a1a1a" stroke="#1a1a1a" stroke-width="0.12" text-anchor="middle">Signed Average Magnetic Field [G]</text><text x="12" y="475.5" font-family="'Liberation Sans', Arial, sans-serif" font-size="18.5" font-weight="bold" fill="#111" stroke="#111" stroke-width="0.4">f</text><g stroke="#d9d9d9" stroke-width="1"><line x1="392.6" y1="485.73" x2="677.6" y2="485.73"/><line x1="392.6" y1="496.98" x2="677.6" y2="496.98"/><line x1="392.6" y1="508.23" x2="677.6" y2="508.23"/><line x1="392.6" y1="519.48" x2="677.6" y2="519.48"/><line x1="392.6" y1="530.73" x2="677.6" y2="530.73"/><line x1="392.6" y1="541.98" x2="677.6" y2="541.98"/><line x1="392.6" y1="553.23" x2="677.6" y2="553.23"/><line x1="392.6" y1="564.48" x2="677.6" y2="564.48"/><line x1="392.6" y1="575.73" x2="677.6" y2="575.73"/><line x1="392.6" y1="586.98" x2="677.6" y2="586.98"/><line x1="392.6" y1="598.23" x2="677.6" y2="598.23"/><line x1="392.6" y1="609.48" x2="677.6" y2="609.48"/><line x1="392.6" y1="620.73" x2="677.6" y2="620.73"/><line x1="392.6" y1="631.98" x2="677.6" y2="631.98"/><line x1="392.6" y1="643.23" x2="677.6" y2="643.23"/><line x1="392.6" y1="654.48" x2="677.6" y2="654.48"/><line x1="396.3" y1="480.1" x2="396.3" y2="660.1"/><line x1="441.4" y1="480.1" x2="441.4" y2="660.1"/><line x1="486.5" y1="480.1" x2="486.5" y2="660.1"/><line x1="531.6" y1="480.1" x2="531.6" y2="660.1"/><line x1="576.6" y1="480.1" x2="576.6" y2="660.1"/><line x1="621.5" y1="480.1" x2="621.5" y2="660.1"/><line x1="666.5" y1="480.1" x2="666.5" y2="660.1"/></g><g stroke="#222" stroke-width="0.8"><line x1="396.3" y1="476.5" x2="396.3" y2="480.1"/><line x1="441.4" y1="476.5" x2="441.4" y2="480.1"/><line x1="486.5" y1="476.5" x2="486.5" y2="480.1"/><line x1="531.6" y1="476.5" x2="531.6" y2="480.1"/><line x1="576.6" y1="476.5" x2="576.6" y2="480.1"/><line x1="621.5" y1="476.5" x2="621.5" y2="480.1"/><line x1="666.5" y1="476.5" x2="666.5" y2="480.1"/></g><g font-family="'Liberation Sans', Arial, sans-serif" font-size="7" fill="#1a1a1a" stroke="#1a1a1a" stroke-width="0.18" text-anchor="middle"><text x="396.3" y="471.8">8.2</text><text x="441.4" y="471.8">8.4</text><text x="486.5" y="471.8">8.6</text><text x="531.6" y="471.8">8.8</text><text x="576.6" y="471.8">9.0</text><text x="621.5" y="471.8">9.2</text><text x="666.5" y="471.8">9.4</text></g><g font-family="'Liberation Sans', Arial, sans-serif" font-size="7" fill="#1a1a1a" stroke="#1a1a1a" stroke-width="0.18" text-anchor="end"><text x="386.1" y="488.53">Boxplot</text><text x="386.1" y="499.78">ACWE03</text><text x="386.1" y="511.03">ACWE04</text><text x="386.1" y="522.27">CATCH</text><text x="386.1" y="533.52">CHARM</text><text x="386.1" y="544.77">CHIMERA</text><text x="386.1" y="556.02">CHIPS</text><text x="386.1" y="567.27">CHMAP</text><text x="386.1" y="578.52">CHORTLE</text><text x="386.1" y="589.77">CHRONNOS</text><text x="386.1" y="601.02">CNN193</text><text x="386.1" y="612.27">SPoCA-CH</text><text x="386.1" y="623.52">SPoCA-HEK</text><text x="386.1" y="634.77">SYNCH</text><text x="386.1" y="646.02">TH35</text><text x="386.1" y="657.27">WWWBCS</text></g><g stroke="#3a3a3a" stroke-width="1.1" fill="none"><line x1="407.1" y1="485.73" x2="450.5" y2="485.73"/><line x1="521" y1="485.73" x2="570.2" y2="485.73"/><line x1="407.1" y1="483.33" x2="407.1" y2="488.12"/><line x1="570.2" y1="483.33" x2="570.2" y2="488.12"/><rect x="450.5" y="481.46" width="70.5" height="9.1" fill="#8eb9e4" fill-opacity="0.7"/></g><line x1="468" y1="482.03" x2="468" y2="490.03" stroke="#f07a48" stroke-width="1.1"/><g stroke="#222" stroke-width="1.05" fill="none"><path d="M658.4 483.83L662.2 487.62M658.4 487.62L662.2 483.83"/><path d="M660.2 483.83L664 487.62M660.2 487.62L664 483.83"/></g><g fill="#1a00dc"><path d="M424.6 493.18L427.2 496.98L424.6 500.78L422 496.98Z"/><path d="M442 504.43L444.6 508.23L442 512.02L439.4 508.23Z"/><path d="M407.4 515.68L410 519.48L407.4 523.27L404.8 519.48Z"/><path d="M468 526.93L470.6 530.73L468 534.52L465.4 530.73Z"/><path d="M660.3 538.18L662.9 541.98L660.3 545.77L657.7 541.98Z"/><path d="M500.1 549.43L502.7 553.23L500.1 557.02L497.5 553.23Z"/><path d="M406.7 560.68L409.3 564.48L406.7 568.27L404.1 564.48Z"/><path d="M569.9 571.93L572.5 575.73L569.9 579.52L567.3 575.73Z"/><path d="M461.2 583.18L463.8 586.98L461.2 590.77L458.6 586.98Z"/><path d="M459.6 594.43L462.2 598.23L459.6 602.02L457 598.23Z"/><path d="M541.5 605.68L544.1 609.48L541.5 613.27L538.9 609.48Z"/><path d="M469.9 616.93L472.5 620.73L469.9 624.52L467.3 620.73Z"/><path d="M465.4 628.18L468 631.98L465.4 635.77L462.8 631.98Z"/><path d="M499.5 639.43L502.1 643.23L499.5 647.02L496.9 643.23Z"/><path d="M662.3 650.68L664.9 654.48L662.3 658.27L659.7 654.48Z"/></g><text x="535.1" y="463.8" font-family="'Liberation Sans', Arial, sans-serif" font-size="7.82" fill="#1a1a1a" stroke="#1a1a1a" stroke-width="0.12" text-anchor="middle">Unsigned Average Magnetic Field [G]</text><text x="352" y="475.5" font-family="'Liberation Sans', Arial, sans-serif" font-size="18.5" font-weight="bold" fill="#111" stroke="#111" stroke-width="0.4">g</text><g stroke="#d9d9d9" stroke-width="1"><line x1="50" y1="701.83" x2="334.8" y2="701.83"/><line x1="50" y1="713.08" x2="334.8" y2="713.08"/><line x1="50" y1="724.33" x2="334.8" y2="724.33"/><line x1="50" y1="735.58" x2="334.8" y2="735.58"/><line x1="50" y1="746.83" x2="334.8" y2="746.83"/><line x1="50" y1="758.08" x2="334.8" y2="758.08"/><line x1="50" y1="769.33" x2="334.8" y2="769.33"/><line x1="50" y1="780.58" x2="334.8" y2="780.58"/><line x1="50" y1="791.83" x2="334.8" y2="791.83"/><line x1="50" y1="803.08" x2="334.8" y2="803.08"/><line x1="50" y1="814.33" x2="334.8" y2="814.33"/><line x1="50" y1="825.58" x2="334.8" y2="825.58"/><line x1="50" y1="836.83" x2="334.8" y2="836.83"/><line x1="50" y1="848.08" x2="334.8" y2="848.08"/><line x1="50" y1="859.33" x2="334.8" y2="859.33"/><line x1="50" y1="870.58" x2="334.8" y2="870.58"/><line x1="61.4" y1="696.2" x2="61.4" y2="876.2"/><line x1="107.6" y1="696.2" x2="107.6" y2="876.2"/><line x1="153.8" y1="696.2" x2="153.8" y2="876.2"/><line x1="200" y1="696.2" x2="200" y2="876.2"/><line x1="246.2" y1="696.2" x2="246.2" y2="876.2"/><line x1="292.3" y1="696.2" x2="292.3" y2="876.2"/></g><g stroke="#222" stroke-width="0.8"><line x1="61.4" y1="692.6" x2="61.4" y2="696.2"/><line x1="107.6" y1="692.6" x2="107.6" y2="696.2"/><line x1="153.8" y1="692.6" x2="153.8" y2="696.2"/><line x1="200" y1="692.6" x2="200" y2="696.2"/><line x1="246.2" y1="692.6" x2="246.2" y2="696.2"/><line x1="292.3" y1="692.6" x2="292.3" y2="696.2"/></g><g font-family="'Liberation Sans', Arial, sans-serif" font-size="7" fill="#1a1a1a" stroke="#1a1a1a" stroke-width="0.18" text-anchor="middle"><text x="61.4" y="687.9">0.60</text><text x="107.6" y="687.9">0.62</text><text x="153.8" y="687.9">0.64</text><text x="200" y="687.9">0.66</text><text x="246.2" y="687.9">0.68</text><text x="292.3" y="687.9">0.70</text></g><g font-family="'Liberation Sans', Arial, sans-serif" font-size="7" fill="#1a1a1a" stroke="#1a1a1a" stroke-width="0.18" text-anchor="end"><text x="43.5" y="704.62">Boxplot</text><text x="43.5" y="715.88">ACWE03</text><text x="43.5" y="727.12">ACWE04</text><text x="43.5" y="738.38">CATCH</text><text x="43.5" y="749.62">CHARM</text><text x="43.5" y="760.88">CHIMERA</text><text x="43.5" y="772.12">CHIPS</text><text x="43.5" y="783.38">CHMAP</text><text x="43.5" y="794.62">CHORTLE</text><text x="43.5" y="805.88">CHRONNOS</text><text x="43.5" y="817.12">CNN193</text><text x="43.5" y="828.38">SPoCA-CH</text><text x="43.5" y="839.62">SPoCA-HEK</text><text x="43.5" y="850.88">SYNCH</text><text x="43.5" y="862.12">TH35</text><text x="43.5" y="873.38">WWWBCS</text></g><g stroke="#3a3a3a" stroke-width="1.1" fill="none"><line x1="198.9" y1="701.83" x2="221.3" y2="701.83"/><line x1="275.5" y1="701.83" x2="320.2" y2="701.83"/><line x1="198.9" y1="699.43" x2="198.9" y2="704.23"/><line x1="320.2" y1="699.43" x2="320.2" y2="704.23"/><rect x="221.3" y="697.56" width="54.2" height="9.1" fill="#8eb9e4" fill-opacity="0.7"/></g><line x1="254.1" y1="698.12" x2="254.1" y2="706.12" stroke="#f07a48" stroke-width="1.1"/><g stroke="#222" stroke-width="1.05" fill="none"><path d="M62.8 699.93L66.6 703.73M62.8 703.73L66.6 699.93"/><path d="M115.2 699.93L119 703.73M115.2 703.73L119 699.93"/></g><g fill="#1a00dc"><path d="M272.1 709.28L274.7 713.08L272.1 716.88L269.5 713.08Z"/><path d="M253.8 720.53L256.4 724.33L253.8 728.12L251.2 724.33Z"/><path d="M320.2 731.78L322.8 735.58L320.2 739.38L317.6 735.58Z"/><path d="M291.9 743.03L294.5 746.83L291.9 750.62L289.3 746.83Z"/><path d="M117.1 754.28L119.7 758.08L117.1 761.88L114.5 758.08Z"/><path d="M253.8 765.53L256.4 769.33L253.8 773.12L251.2 769.33Z"/><path d="M218.4 776.78L221 780.58L218.4 784.38L215.8 780.58Z"/><path d="M277.1 788.03L279.7 791.83L277.1 795.62L274.5 791.83Z"/><path d="M241.4 799.28L244 803.08L241.4 806.88L238.8 803.08Z"/><path d="M300.9 810.53L303.5 814.33L300.9 818.12L298.3 814.33Z"/><path d="M224 821.78L226.6 825.58L224 829.38L221.4 825.58Z"/><path d="M198.9 833.03L201.5 836.83L198.9 840.62L196.3 836.83Z"/><path d="M240.9 844.28L243.5 848.08L240.9 851.88L238.3 848.08Z"/><path d="M274.2 855.53L276.8 859.33L274.2 863.12L271.6 859.33Z"/><path d="M64.7 866.78L67.3 870.58L64.7 874.38L62.1 870.58Z"/></g><text x="192.4" y="679.9" font-family="'Liberation Sans', Arial, sans-serif" font-size="7.82" fill="#1a1a1a" stroke="#1a1a1a" stroke-width="0.12" text-anchor="middle">Degree of Unipolarity</text><text x="10.1" y="691.6" font-family="'Liberation Sans', Arial, sans-serif" font-size="18.5" font-weight="bold" fill="#111" stroke="#111" stroke-width="0.4">h</text><g stroke="#d9d9d9" stroke-width="1"><line x1="392.6" y1="701.83" x2="677.6" y2="701.83"/><line x1="392.6" y1="713.08" x2="677.6" y2="713.08"/><line x1="392.6" y1="724.33" x2="677.6" y2="724.33"/><line x1="392.6" y1="735.58" x2="677.6" y2="735.58"/><line x1="392.6" y1="746.83" x2="677.6" y2="746.83"/><line x1="392.6" y1="758.08" x2="677.6" y2="758.08"/><line x1="392.6" y1="769.33" x2="677.6" y2="769.33"/><line x1="392.6" y1="780.58" x2="677.6" y2="780.58"/><line x1="392.6" y1="791.83" x2="677.6" y2="791.83"/><line x1="392.6" y1="803.08" x2="677.6" y2="803.08"/><line x1="392.6" y1="814.33" x2="677.6" y2="814.33"/><line x1="392.6" y1="825.58" x2="677.6" y2="825.58"/><line x1="392.6" y1="836.83" x2="677.6" y2="836.83"/><line x1="392.6" y1="848.08" x2="677.6" y2="848.08"/><line x1="392.6" y1="859.33" x2="677.6" y2="859.33"/><line x1="392.6" y1="870.58" x2="677.6" y2="870.58"/><line x1="394.8" y1="696.2" x2="394.8" y2="876.2"/><line x1="430.4" y1="696.2" x2="430.4" y2="876.2"/><line x1="466" y1="696.2" x2="466" y2="876.2"/><line x1="501.6" y1="696.2" x2="501.6" y2="876.2"/><line x1="537.2" y1="696.2" x2="537.2" y2="876.2"/><line x1="572.7" y1="696.2" x2="572.7" y2="876.2"/><line x1="608.3" y1="696.2" x2="608.3" y2="876.2"/><line x1="643.9" y1="696.2" x2="643.9" y2="876.2"/></g><g stroke="#222" stroke-width="0.8"><line x1="394.8" y1="692.6" x2="394.8" y2="696.2"/><line x1="430.4" y1="692.6" x2="430.4" y2="696.2"/><line x1="466" y1="692.6" x2="466" y2="696.2"/><line x1="501.6" y1="692.6" x2="501.6" y2="696.2"/><line x1="537.2" y1="692.6" x2="537.2" y2="696.2"/><line x1="572.7" y1="692.6" x2="572.7" y2="696.2"/><line x1="608.3" y1="692.6" x2="608.3" y2="696.2"/><line x1="643.9" y1="692.6" x2="643.9" y2="696.2"/></g><g font-family="'Liberation Sans', Arial, sans-serif" font-size="7" fill="#1a1a1a" stroke="#1a1a1a" stroke-width="0.18" text-anchor="middle"><text x="394.8" y="687.9">5.0</text><text x="430.4" y="687.9">7.5</text><text x="466" y="687.9">10.0</text><text x="501.6" y="687.9">12.5</text><text x="537.2" y="687.9">15.0</text><text x="572.7" y="687.9">17.5</text><text x="608.3" y="687.9">20.0</text><text x="643.9" y="687.9">22.5</text></g><g font-family="'Liberation Sans', Arial, sans-serif" font-size="7" fill="#1a1a1a" stroke="#1a1a1a" stroke-width="0.18" text-anchor="end"><text x="386.1" y="704.62">Boxplot</text><text x="386.1" y="715.88">ACWE03</text><text x="386.1" y="727.12">ACWE04</text><text x="386.1" y="738.38">CATCH</text><text x="386.1" y="749.62">CHARM</text><text x="386.1" y="760.88">CHIMERA</text><text x="386.1" y="772.12">CHIPS</text><text x="386.1" y="783.38">CHMAP</text><text x="386.1" y="794.62">CHORTLE</text><text x="386.1" y="805.88">CHRONNOS</text><text x="386.1" y="817.12">CNN193</text><text x="386.1" y="828.38">SPoCA-CH</text><text x="386.1" y="839.62">SPoCA-HEK</text><text x="386.1" y="850.88">SYNCH</text><text x="386.1" y="862.12">TH35</text><text x="386.1" y="873.38">WWWBCS</text></g><g stroke="#3a3a3a" stroke-width="1.1" fill="none"><line x1="407.1" y1="701.83" x2="417.5" y2="701.83"/><line x1="454.2" y1="701.83" x2="472.2" y2="701.83"/><line x1="407.1" y1="699.43" x2="407.1" y2="704.23"/><line x1="472.2" y1="699.43" x2="472.2" y2="704.23"/><rect x="417.5" y="697.56" width="36.7" height="9.1" fill="#8eb9e4" fill-opacity="0.7"/></g><line x1="427.2" y1="698.12" x2="427.2" y2="706.12" stroke="#f07a48" stroke-width="1.1"/><g stroke="#222" stroke-width="1.05" fill="none"><path d="M508.7 699.93L512.5 703.73M508.7 703.73L512.5 699.93"/><path d="M519.1 699.93L522.9 703.73M519.1 703.73L522.9 699.93"/><path d="M660.5 699.93L664.3 703.73M660.5 703.73L664.3 699.93"/></g><g fill="#1a00dc"><path d="M416.7 709.28L419.3 713.08L416.7 716.88L414.1 713.08Z"/><path d="M427.2 720.53L429.8 724.33L427.2 728.12L424.6 724.33Z"/><path d="M432.8 731.78L435.4 735.58L432.8 739.38L430.2 735.58Z"/><path d="M418.8 743.03L421.4 746.83L418.8 750.62L416.2 746.83Z"/><path d="M521 754.28L523.6 758.08L521 761.88L518.4 758.08Z"/><path d="M472.2 765.53L474.8 769.33L472.2 773.12L469.6 769.33Z"/><path d="M406.7 776.78L409.3 780.58L406.7 784.38L404.1 780.58Z"/><path d="M662.4 788.03L665 791.83L662.4 795.62L659.8 791.83Z"/><path d="M421 799.28L423.6 803.08L421 806.88L418.4 803.08Z"/><path d="M432.1 810.53L434.7 814.33L432.1 818.12L429.5 814.33Z"/><path d="M409.1 821.78L411.7 825.58L409.1 829.38L406.5 825.58Z"/><path d="M409.9 833.03L412.5 836.83L409.9 840.62L407.3 836.83Z"/><path d="M427.1 844.28L429.7 848.08L427.1 851.88L424.5 848.08Z"/><path d="M435.5 855.53L438.1 859.33L435.5 863.12L432.9 859.33Z"/><path d="M510.3 866.78L512.9 870.58L510.3 874.38L507.7 870.58Z"/></g><text x="535.1" y="679.9" font-family="'Liberation Sans', Arial, sans-serif" font-size="7.82" fill="#1a1a1a" stroke="#1a1a1a" stroke-width="0.12" text-anchor="middle">Open Magnetic Flux [1e20 Mx]</text><text x="355.5" y="691.6" font-family="'Liberation Sans', Arial, sans-serif" font-size="18.5" font-weight="bold" fill="#111" stroke="#111" stroke-width="0.4">i</text>
</svg></body></html>
